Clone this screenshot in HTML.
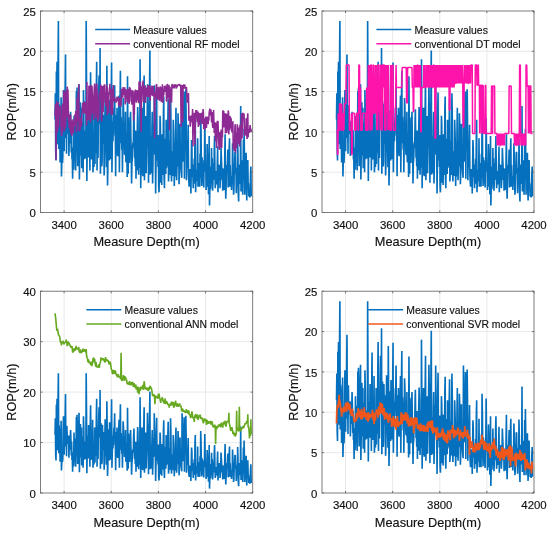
<!DOCTYPE html>
<html><head><meta charset="utf-8"><title>ROP models</title>
<style>
html,body{margin:0;padding:0;background:#fff;}
body{width:550px;height:533px;overflow:hidden;}
svg{display:block;}
text{font-family:"Liberation Sans",Arial,Helvetica,sans-serif;fill:#111;stroke:#111;stroke-width:0.15px;}
.tk{font-size:11.4px;}
.lb{font-size:12.75px;}
.lg{font-size:10.4px;}
</style></head><body>
<svg width="550" height="533" viewBox="0 0 550 533">
<rect width="550" height="533" fill="#fff"/>
<g>
<rect x="40.50" y="11.00" width="212.20" height="201.50" fill="#fff"/>
<path d="M64.08 11.00 V212.50 M111.23 11.00 V212.50 M158.39 11.00 V212.50 M205.54 11.00 V212.50 M40.50 172.20 H252.70 M40.50 131.90 H252.70 M40.50 91.60 H252.70 M40.50 51.30 H252.70" stroke="#e3e3e3" stroke-width="0.8" fill="none"/>
<path d="M55.01 119.54 L55.35 93.21 L55.69 150.55 L56.03 160.51 L56.37 71.45 L56.71 90.54 L57.05 61.78 L57.39 144.33 L57.72 129.71 L58.06 59.67 L58.40 21.08 L58.74 148.99 L59.08 104.37 L59.42 110.98 L59.76 122.36 L60.10 162.53 L60.44 149.01 L60.77 131.19 L61.11 97.24 L61.45 176.47 L61.79 162.40 L62.13 146.18 L62.47 163.01 L62.81 157.18 L63.15 110.85 L63.48 89.99 L63.82 145.43 L64.16 151.24 L64.50 116.68 L64.84 117.55 L65.18 84.99 L65.52 54.52 L65.86 138.03 L66.20 113.16 L66.53 153.66 L66.87 105.00 L67.21 122.64 L67.55 125.52 L67.89 134.03 L68.23 127.83 L68.57 120.83 L68.91 156.08 L69.24 139.79 L69.58 121.85 L69.92 143.51 L70.26 126.02 L70.60 111.75 L70.94 128.26 L71.28 152.47 L71.62 130.31 L71.96 159.59 L72.29 155.77 L72.63 178.65 L72.97 147.53 L73.31 168.87 L73.65 169.84 L73.99 115.78 L74.33 150.17 L74.67 125.31 L75.00 155.23 L75.34 160.76 L75.68 170.59 L76.02 148.61 L76.36 91.24 L76.70 104.04 L77.04 87.57 L77.38 116.26 L77.72 166.16 L78.05 135.59 L78.39 119.02 L78.73 103.13 L79.07 84.35 L79.41 179.45 L79.75 157.05 L80.09 118.77 L80.43 102.34 L80.77 155.74 L81.10 122.51 L81.44 107.72 L81.78 168.35 L82.12 122.21 L82.46 128.60 L82.80 136.45 L83.14 172.20 L83.48 89.99 L83.81 110.15 L84.15 159.33 L84.49 150.58 L84.83 130.43 L85.17 137.76 L85.51 150.97 L85.85 158.38 L86.19 21.08 L86.53 86.51 L86.86 181.07 L87.20 146.25 L87.54 121.26 L87.88 135.82 L88.22 157.37 L88.56 103.69 L88.90 135.62 L89.24 135.69 L89.57 118.45 L89.91 170.59 L90.25 105.66 L90.59 72.26 L90.93 132.42 L91.27 150.06 L91.61 159.46 L91.95 155.63 L92.29 139.25 L92.62 95.63 L92.96 172.20 L93.30 162.91 L93.64 160.03 L93.98 167.04 L94.32 143.86 L94.66 107.72 L95.00 163.95 L95.33 115.75 L95.67 107.62 L96.01 153.33 L96.35 88.38 L96.69 61.78 L97.03 170.59 L97.37 125.52 L97.71 143.83 L98.05 157.98 L98.38 115.88 L98.72 91.11 L99.06 75.48 L99.40 103.14 L99.74 123.87 L100.08 48.08 L100.42 173.81 L100.76 119.64 L101.10 101.27 L101.43 120.50 L101.77 166.40 L102.11 161.10 L102.45 103.69 L102.79 122.64 L103.13 144.13 L103.47 131.73 L103.81 114.90 L104.14 175.42 L104.48 164.77 L104.82 124.22 L105.16 94.82 L105.50 106.41 L105.84 143.47 L106.18 147.67 L106.52 167.21 L106.86 65.81 L107.19 109.35 L107.53 185.50 L107.87 167.86 L108.21 110.81 L108.55 122.05 L108.89 139.29 L109.23 160.47 L109.57 99.66 L109.90 113.82 L110.24 159.10 L110.58 156.26 L110.92 134.42 L111.26 101.36 L111.60 62.58 L111.94 172.20 L112.28 146.42 L112.62 121.63 L112.95 141.17 L113.29 129.77 L113.63 118.74 L113.97 107.87 L114.31 109.01 L114.65 85.15 L114.99 135.64 L115.33 129.99 L115.66 176.23 L116.00 121.67 L116.34 114.90 L116.68 151.04 L117.02 107.72 L117.36 153.26 L117.70 156.20 L118.04 149.43 L118.38 151.55 L118.71 113.03 L119.05 95.63 L119.39 172.20 L119.73 135.27 L120.07 98.38 L120.41 70.64 L120.75 143.19 L121.09 116.81 L121.43 126.41 L121.76 149.82 L122.10 130.63 L122.44 172.20 L122.78 140.28 L123.12 98.05 L123.46 106.05 L123.80 124.50 L124.14 129.10 L124.47 154.38 L124.81 152.14 L125.15 155.16 L125.49 111.75 L125.83 160.91 L126.17 162.43 L126.51 132.65 L126.85 146.66 L127.19 177.04 L127.52 76.29 L127.86 128.28 L128.20 173.77 L128.54 117.32 L128.88 156.53 L129.22 137.62 L129.56 162.89 L129.90 134.73 L130.23 122.11 L130.57 111.75 L130.91 138.40 L131.25 154.22 L131.59 183.48 L131.93 163.03 L132.27 159.69 L132.61 147.48 L132.95 142.67 L133.28 147.67 L133.62 122.16 L133.96 109.33 L134.30 137.62 L134.64 157.62 L134.98 153.20 L135.32 166.29 L135.66 130.53 L136.00 178.65 L136.33 153.52 L136.67 169.81 L137.01 170.01 L137.35 127.37 L137.69 107.13 L138.03 118.80 L138.37 165.49 L138.71 174.62 L139.04 130.82 L139.38 131.36 L139.72 167.84 L140.06 59.36 L140.40 110.68 L140.74 188.32 L141.08 147.06 L141.42 149.42 L141.76 174.58 L142.09 107.72 L142.43 135.46 L142.77 176.29 L143.11 118.46 L143.45 122.42 L143.79 104.70 L144.13 75.48 L144.47 180.26 L144.80 163.07 L145.14 127.09 L145.48 164.31 L145.82 115.91 L146.16 173.32 L146.50 154.60 L146.84 131.48 L147.18 115.85 L147.52 84.35 L147.85 109.64 L148.19 133.31 L148.53 182.68 L148.87 103.27 L149.21 169.78 L149.55 89.95 L149.89 50.49 L150.23 174.62 L150.56 136.58 L150.90 158.08 L151.24 156.19 L151.58 173.30 L151.92 129.38 L152.26 111.75 L152.60 183.48 L152.94 164.98 L153.28 124.66 L153.61 149.90 L153.95 154.35 L154.29 85.15 L154.63 118.47 L154.97 131.75 L155.31 146.77 L155.65 193.48 L155.99 164.46 L156.33 110.59 L156.66 92.41 L157.00 159.64 L157.34 159.70 L157.68 141.03 L158.02 166.96 L158.36 135.08 L158.70 186.54 L159.04 192.35 L159.37 174.99 L159.71 162.21 L160.05 115.78 L160.39 124.31 L160.73 182.76 L161.07 135.63 L161.41 140.11 L161.75 185.10 L162.09 134.23 L162.42 143.22 L162.76 174.87 L163.10 169.68 L163.44 111.83 L163.78 96.44 L164.12 177.85 L164.46 188.32 L164.80 154.32 L165.13 138.55 L165.47 163.45 L165.81 173.87 L166.15 119.81 L166.49 167.99 L166.83 147.51 L167.17 166.15 L167.51 150.39 L167.85 119.71 L168.18 98.85 L168.52 181.47 L168.86 173.02 L169.20 140.77 L169.54 174.04 L169.88 174.84 L170.22 126.75 L170.56 93.21 L170.89 114.52 L171.23 173.56 L171.57 181.47 L171.91 151.15 L172.25 172.18 L172.59 175.84 L172.93 167.11 L173.27 119.81 L173.61 130.86 L173.94 144.62 L174.28 185.90 L174.62 166.48 L174.96 154.01 L175.30 176.44 L175.64 130.24 L175.98 107.72 L176.32 163.43 L176.66 180.26 L176.99 165.71 L177.33 148.76 L177.67 166.49 L178.01 113.36 L178.35 124.16 L178.69 124.20 L179.03 184.29 L179.37 173.78 L179.70 167.03 L180.04 123.84 L180.38 168.77 L180.72 144.50 L181.06 161.84 L181.40 173.22 L181.74 177.84 L182.08 85.15 L182.42 105.03 L182.75 161.71 L183.09 155.37 L183.43 148.72 L183.77 159.90 L184.11 91.60 L184.45 178.65 L184.79 126.14 L185.13 144.82 L185.46 149.40 L185.80 89.18 L186.14 118.20 L186.48 180.26 L186.82 157.05 L187.16 161.48 L187.50 167.46 L187.84 145.58 L188.18 124.65 L188.51 174.27 L188.85 181.35 L189.19 186.71 L189.53 170.60 L189.87 170.29 L190.21 169.11 L190.55 171.03 L190.89 193.48 L191.22 170.62 L191.56 139.96 L191.90 146.73 L192.24 177.00 L192.58 166.83 L192.92 175.08 L193.26 188.32 L193.60 164.55 L193.94 172.57 L194.27 158.59 L194.61 183.75 L194.95 135.93 L195.29 119.81 L195.63 192.35 L195.97 181.11 L196.31 169.79 L196.65 181.10 L196.99 178.56 L197.32 174.42 L197.66 138.35 L198.00 186.71 L198.34 181.73 L198.68 162.90 L199.02 182.03 L199.36 170.74 L199.70 186.71 L200.03 153.80 L200.37 177.86 L200.71 113.36 L201.05 132.34 L201.39 169.46 L201.73 185.90 L202.07 157.21 L202.41 162.52 L202.75 181.22 L203.08 174.66 L203.42 181.71 L203.76 187.51 L204.10 160.11 L204.44 165.63 L204.78 118.20 L205.12 147.94 L205.46 171.45 L205.79 165.37 L206.13 189.93 L206.47 175.44 L206.81 179.49 L207.15 143.99 L207.49 156.36 L207.83 186.75 L208.17 172.26 L208.51 194.35 L208.84 190.13 L209.18 135.93 L209.52 205.49 L209.86 187.97 L210.20 166.39 L210.54 189.13 L210.88 182.14 L211.22 180.08 L211.56 148.02 L211.89 181.42 L212.23 158.23 L212.57 190.74 L212.91 183.82 L213.25 163.18 L213.59 172.85 L213.93 179.67 L214.27 148.79 L214.60 135.93 L214.94 169.45 L215.28 188.32 L215.62 180.42 L215.96 182.24 L216.30 173.37 L216.64 171.20 L216.98 184.48 L217.32 161.67 L217.65 146.41 L217.99 192.35 L218.33 176.72 L218.67 164.62 L219.01 180.19 L219.35 175.08 L219.69 164.64 L220.03 188.32 L220.36 180.75 L220.70 171.58 L221.04 148.02 L221.38 157.74 L221.72 166.47 L222.06 179.75 L222.40 168.17 L222.74 190.74 L223.08 168.47 L223.41 183.86 L223.75 178.07 L224.09 171.55 L224.43 190.10 L224.77 155.30 L225.11 134.32 L225.45 182.74 L225.79 198.80 L226.12 185.94 L226.46 165.09 L226.80 172.85 L227.14 169.62 L227.48 161.56 L227.82 149.63 L228.16 187.51 L228.50 165.88 L228.84 152.94 L229.17 149.09 L229.51 138.35 L229.85 186.71 L230.19 165.01 L230.53 180.13 L230.87 176.08 L231.21 177.53 L231.55 189.93 L231.89 179.68 L232.22 176.52 L232.56 143.18 L232.90 155.60 L233.24 171.28 L233.58 194.77 L233.92 190.09 L234.26 168.88 L234.60 173.77 L234.93 152.45 L235.27 152.05 L235.61 171.85 L235.95 167.69 L236.29 193.16 L236.63 184.33 L236.97 176.76 L237.31 185.32 L237.65 139.15 L237.98 155.75 L238.32 195.41 L238.66 201.54 L239.00 164.40 L239.34 183.94 L239.68 178.63 L240.02 171.39 L240.36 179.84 L240.69 106.11 L241.03 191.54 L241.37 178.11 L241.71 160.27 L242.05 172.35 L242.39 181.04 L242.73 194.77 L243.07 172.68 L243.41 139.68 L243.74 180.19 L244.08 128.68 L244.42 152.72 L244.76 194.77 L245.10 169.95 L245.44 180.29 L245.78 178.93 L246.12 152.86 L246.45 188.28 L246.79 200.41 L247.13 177.60 L247.47 176.23 L247.81 160.11 L248.15 183.90 L248.49 183.23 L248.83 196.38 L249.17 188.95 L249.50 194.89 L249.84 197.51 L250.18 194.82 L250.52 175.55 L250.86 166.56 L251.20 196.38" fill="none" stroke="#0570be" stroke-width="1.62" stroke-linejoin="bevel"/>
<path d="M55.01 115.78 L55.35 109.39 L55.69 103.93 L56.03 160.11 L56.37 110.00 L56.71 101.29 L57.05 132.51 L57.39 129.44 L57.72 130.74 L58.06 102.38 L58.40 113.08 L58.74 127.11 L59.08 108.22 L59.42 115.06 L59.76 111.84 L60.10 106.86 L60.44 113.51 L60.77 105.44 L61.11 128.72 L61.45 133.92 L61.79 135.81 L62.13 115.81 L62.47 132.29 L62.81 103.51 L63.15 127.21 L63.48 108.95 L63.82 90.66 L64.16 119.65 L64.50 131.23 L64.84 103.86 L65.18 92.07 L65.52 128.29 L65.86 118.04 L66.20 89.93 L66.53 95.14 L66.87 117.54 L67.21 86.65 L67.55 90.88 L67.89 89.30 L68.23 103.25 L68.57 121.85 L68.91 121.55 L69.24 128.14 L69.58 114.31 L69.92 127.71 L70.26 131.52 L70.60 114.82 L70.94 134.28 L71.28 120.57 L71.62 135.50 L71.96 135.02 L72.29 128.19 L72.63 126.58 L72.97 119.32 L73.31 133.07 L73.65 129.70 L73.99 121.64 L74.33 126.39 L74.67 124.46 L75.00 114.39 L75.34 123.89 L75.68 111.04 L76.02 112.75 L76.36 131.60 L76.70 131.89 L77.04 98.05 L77.38 109.01 L77.72 110.18 L78.05 91.60 L78.39 121.57 L78.73 84.35 L79.07 129.11 L79.41 131.09 L79.75 129.17 L80.09 129.72 L80.43 117.86 L80.77 119.65 L81.10 126.37 L81.44 125.71 L81.78 115.08 L82.12 111.54 L82.46 106.23 L82.80 102.95 L83.14 104.59 L83.48 108.33 L83.81 113.33 L84.15 101.39 L84.49 103.53 L84.83 105.32 L85.17 108.88 L85.51 113.90 L85.85 105.04 L86.19 102.03 L86.53 125.42 L86.86 82.05 L87.20 120.01 L87.54 119.87 L87.88 115.76 L88.22 113.42 L88.56 120.15 L88.90 85.88 L89.24 86.33 L89.57 86.03 L89.91 115.07 L90.25 118.07 L90.59 122.37 L90.93 84.77 L91.27 114.41 L91.61 89.35 L91.95 85.79 L92.29 93.47 L92.62 102.77 L92.96 113.64 L93.30 102.45 L93.64 120.07 L93.98 96.01 L94.32 87.09 L94.66 83.52 L95.00 102.71 L95.33 109.46 L95.67 118.54 L96.01 112.32 L96.35 86.05 L96.69 83.53 L97.03 90.20 L97.37 106.97 L97.71 121.69 L98.05 115.68 L98.38 101.23 L98.72 119.26 L99.06 102.05 L99.40 91.42 L99.74 99.89 L100.08 92.15 L100.42 90.50 L100.76 84.47 L101.10 89.80 L101.43 120.90 L101.77 121.27 L102.11 99.85 L102.45 85.91 L102.79 102.90 L103.13 112.05 L103.47 85.55 L103.81 102.84 L104.14 95.30 L104.48 84.24 L104.82 93.82 L105.16 93.77 L105.50 93.38 L105.84 105.96 L106.18 105.79 L106.52 84.63 L106.86 86.73 L107.19 115.09 L107.53 87.50 L107.87 98.59 L108.21 95.93 L108.55 113.18 L108.89 93.17 L109.23 92.81 L109.57 94.28 L109.90 83.83 L110.24 91.45 L110.58 90.36 L110.92 109.48 L111.26 114.69 L111.60 88.97 L111.94 113.83 L112.28 114.73 L112.62 110.54 L112.95 89.65 L113.29 85.07 L113.63 101.58 L113.97 97.15 L114.31 97.74 L114.65 97.75 L114.99 100.91 L115.33 100.00 L115.66 98.86 L116.00 102.71 L116.34 100.85 L116.68 100.89 L117.02 96.52 L117.36 99.45 L117.70 97.57 L118.04 96.83 L118.38 100.66 L118.71 106.01 L119.05 105.91 L119.39 102.04 L119.73 97.87 L120.07 100.06 L120.41 97.51 L120.75 106.75 L121.09 104.33 L121.43 88.80 L121.76 91.18 L122.10 89.97 L122.44 91.77 L122.78 97.67 L123.12 87.04 L123.46 94.47 L123.80 90.50 L124.14 94.94 L124.47 89.30 L124.81 87.27 L125.15 104.49 L125.49 89.26 L125.83 90.62 L126.17 97.08 L126.51 98.92 L126.85 89.88 L127.19 102.51 L127.52 91.23 L127.86 88.96 L128.20 91.70 L128.54 97.02 L128.88 102.08 L129.22 103.75 L129.56 87.08 L129.90 88.04 L130.23 88.59 L130.57 89.86 L130.91 93.65 L131.25 101.99 L131.59 91.12 L131.93 104.75 L132.27 90.16 L132.61 93.67 L132.95 90.63 L133.28 108.40 L133.62 120.62 L133.96 102.48 L134.30 114.83 L134.64 91.45 L134.98 93.23 L135.32 90.19 L135.66 89.96 L136.00 99.67 L136.33 102.75 L136.67 100.43 L137.01 91.34 L137.35 90.31 L137.69 93.59 L138.03 92.95 L138.37 100.15 L138.71 103.18 L139.04 81.62 L139.38 102.98 L139.72 86.77 L140.06 97.83 L140.40 81.50 L140.74 98.66 L141.08 131.90 L141.42 103.85 L141.76 92.62 L142.09 86.23 L142.43 87.69 L142.77 84.01 L143.11 80.68 L143.45 101.92 L143.79 94.41 L144.13 87.71 L144.47 95.03 L144.80 88.94 L145.14 85.20 L145.48 102.87 L145.82 92.21 L146.16 91.64 L146.50 87.49 L146.84 96.60 L147.18 92.70 L147.52 91.05 L147.85 86.29 L148.19 85.04 L148.53 97.10 L148.87 87.19 L149.21 86.29 L149.55 90.85 L149.89 85.59 L150.23 100.71 L150.56 88.75 L150.90 88.81 L151.24 88.24 L151.58 95.34 L151.92 85.57 L152.26 90.71 L152.60 86.17 L152.94 96.22 L153.28 85.96 L153.61 93.06 L153.95 95.68 L154.29 92.08 L154.63 138.35 L154.97 102.80 L155.31 93.79 L155.65 98.08 L155.99 89.47 L156.33 84.68 L156.66 84.39 L157.00 92.15 L157.34 99.72 L157.68 95.94 L158.02 87.47 L158.36 87.52 L158.70 95.39 L159.04 100.03 L159.37 96.06 L159.71 100.84 L160.05 86.53 L160.39 88.01 L160.73 87.04 L161.07 90.12 L161.41 102.34 L161.75 91.42 L162.09 99.18 L162.42 84.29 L162.76 102.66 L163.10 100.12 L163.44 92.11 L163.78 95.15 L164.12 89.30 L164.46 86.15 L164.80 92.01 L165.13 86.10 L165.47 85.82 L165.81 90.26 L166.15 87.33 L166.49 100.71 L166.83 101.49 L167.17 84.00 L167.51 84.87 L167.85 92.04 L168.18 95.07 L168.52 98.11 L168.86 84.81 L169.20 89.41 L169.54 130.29 L169.88 86.64 L170.22 88.93 L170.56 89.94 L170.89 97.52 L171.23 88.96 L171.57 102.74 L171.91 84.39 L172.25 84.53 L172.59 88.48 L172.93 85.26 L173.27 87.17 L173.61 85.28 L173.94 84.96 L174.28 88.38 L174.62 84.61 L174.96 84.81 L175.30 84.74 L175.64 86.80 L175.98 85.70 L176.32 88.55 L176.66 84.58 L176.99 86.95 L177.33 86.57 L177.67 84.64 L178.01 85.17 L178.35 84.94 L178.69 84.79 L179.03 84.91 L179.37 84.56 L179.70 84.48 L180.04 86.09 L180.38 85.95 L180.72 84.86 L181.06 127.06 L181.40 88.40 L181.74 87.35 L182.08 88.81 L182.42 84.92 L182.75 122.23 L183.09 86.11 L183.43 88.66 L183.77 84.86 L184.11 84.84 L184.45 86.35 L184.79 84.68 L185.13 88.75 L185.46 87.02 L185.80 88.12 L186.14 87.93 L186.48 86.95 L186.82 94.76 L187.16 101.32 L187.50 102.68 L187.84 97.33 L188.18 97.53 L188.51 93.06 L188.85 119.73 L189.19 120.76 L189.53 119.88 L189.87 116.34 L190.21 126.77 L190.55 123.91 L190.89 115.83 L191.22 116.09 L191.56 119.97 L191.90 122.18 L192.24 119.00 L192.58 109.10 L192.92 146.41 L193.26 124.41 L193.60 121.78 L193.94 127.74 L194.27 112.87 L194.61 127.07 L194.95 144.80 L195.29 126.26 L195.63 113.74 L195.97 109.99 L196.31 113.40 L196.65 110.02 L196.99 114.80 L197.32 122.28 L197.66 120.12 L198.00 111.43 L198.34 127.02 L198.68 119.01 L199.02 113.57 L199.36 113.32 L199.70 125.19 L200.03 117.57 L200.37 118.72 L200.71 114.31 L201.05 116.19 L201.39 112.71 L201.73 119.35 L202.07 123.88 L202.41 112.44 L202.75 114.72 L203.08 109.16 L203.42 113.15 L203.76 128.90 L204.10 124.69 L204.44 125.87 L204.78 129.86 L205.12 118.85 L205.46 120.45 L205.79 116.69 L206.13 124.18 L206.47 127.94 L206.81 116.59 L207.15 121.70 L207.49 117.23 L207.83 120.08 L208.17 124.15 L208.51 116.84 L208.84 120.55 L209.18 112.38 L209.52 110.62 L209.86 108.56 L210.20 115.29 L210.54 113.66 L210.88 109.65 L211.22 114.19 L211.56 122.40 L211.89 112.04 L212.23 114.76 L212.57 126.28 L212.91 127.75 L213.25 119.10 L213.59 110.08 L213.93 121.91 L214.27 133.09 L214.60 122.46 L214.94 124.45 L215.28 135.66 L215.62 141.30 L215.96 122.58 L216.30 138.85 L216.64 148.02 L216.98 137.44 L217.32 120.87 L217.65 128.79 L217.99 120.91 L218.33 130.04 L218.67 139.33 L219.01 147.85 L219.35 148.92 L219.69 149.63 L220.03 131.89 L220.36 133.34 L220.70 147.50 L221.04 130.77 L221.38 129.76 L221.72 148.02 L222.06 131.97 L222.40 137.40 L222.74 112.06 L223.08 110.31 L223.41 111.68 L223.75 111.07 L224.09 127.40 L224.43 114.70 L224.77 123.27 L225.11 113.18 L225.45 133.51 L225.79 113.71 L226.12 115.68 L226.46 129.80 L226.80 132.98 L227.14 113.77 L227.48 119.52 L227.82 130.44 L228.16 110.44 L228.50 111.55 L228.84 134.37 L229.17 120.31 L229.51 129.93 L229.85 115.85 L230.19 128.21 L230.53 117.03 L230.87 123.44 L231.21 118.40 L231.55 131.02 L231.89 130.71 L232.22 132.75 L232.56 129.98 L232.90 121.31 L233.24 149.20 L233.58 147.57 L233.92 138.55 L234.26 151.24 L234.60 141.72 L234.93 126.54 L235.27 124.22 L235.61 152.86 L235.95 132.53 L236.29 139.57 L236.63 148.13 L236.97 139.14 L237.31 124.22 L237.65 127.48 L237.98 131.70 L238.32 136.40 L238.66 144.02 L239.00 130.68 L239.34 127.68 L239.68 146.41 L240.02 124.82 L240.36 140.62 L240.69 139.48 L241.03 135.92 L241.37 116.91 L241.71 113.21 L242.05 138.44 L242.39 123.03 L242.73 113.32 L243.07 113.10 L243.41 120.42 L243.74 115.90 L244.08 113.46 L244.42 133.69 L244.76 135.80 L245.10 127.17 L245.44 135.15 L245.78 133.58 L246.12 118.78 L246.45 118.44 L246.79 135.71 L247.13 139.00 L247.47 117.63 L247.81 113.31 L248.15 137.29 L248.49 132.05 L248.83 128.97 L249.17 132.82 L249.50 131.56 L249.84 127.25 L250.18 125.03 L250.52 131.20 L250.86 128.51 L251.20 131.90" fill="none" stroke="#8e2a93" stroke-width="1.55" stroke-linejoin="bevel"/>
<path d="M64.08 212.50 v-2.10 M64.08 11.00 v2.10 M111.23 212.50 v-2.10 M111.23 11.00 v2.10 M158.39 212.50 v-2.10 M158.39 11.00 v2.10 M205.54 212.50 v-2.10 M205.54 11.00 v2.10 M252.70 212.50 v-2.10 M252.70 11.00 v2.10 M40.50 212.50 h2.10 M252.70 212.50 h-2.10 M40.50 172.20 h2.10 M252.70 172.20 h-2.10 M40.50 131.90 h2.10 M252.70 131.90 h-2.10 M40.50 91.60 h2.10 M252.70 91.60 h-2.10 M40.50 51.30 h2.10 M252.70 51.30 h-2.10 M40.50 11.00 h2.10 M252.70 11.00 h-2.10" stroke="#555" stroke-width="0.8" fill="none"/>
<rect x="40.50" y="11.00" width="212.20" height="201.50" fill="none" stroke="#666" stroke-width="0.85"/>
<text class="tk" x="64.08" y="228.90" text-anchor="middle">3400</text>
<text class="tk" x="111.23" y="228.90" text-anchor="middle">3600</text>
<text class="tk" x="158.39" y="228.90" text-anchor="middle">3800</text>
<text class="tk" x="205.54" y="228.90" text-anchor="middle">4000</text>
<text class="tk" x="252.70" y="228.90" text-anchor="middle">4200</text>
<text class="tk" x="35.90" y="217.10" text-anchor="end">0</text>
<text class="tk" x="35.90" y="176.80" text-anchor="end">5</text>
<text class="tk" x="35.90" y="136.50" text-anchor="end">10</text>
<text class="tk" x="35.90" y="96.20" text-anchor="end">15</text>
<text class="tk" x="35.90" y="55.90" text-anchor="end">20</text>
<text class="tk" x="35.90" y="15.60" text-anchor="end">25</text>
<text class="lb" x="146.60" y="246.30" text-anchor="middle">Measure Depth(m)</text>
<text class="lb" transform="translate(16.30 111.75) rotate(-90)" text-anchor="middle">ROP(m/h)</text>
<path d="M95.20 29.50 h34.9" stroke="#0570be" stroke-width="1.5" fill="none"/>
<path d="M95.20 43.85 h34.9" stroke="#8e2a93" stroke-width="1.5" fill="none"/>
<text class="lg" x="133.30" y="33.90">Measure values</text>
<text class="lg" x="133.30" y="48.30">conventional RF model</text>
</g>
<g>
<rect x="322.00" y="11.00" width="212.00" height="201.50" fill="#fff"/>
<path d="M345.56 11.00 V212.50 M392.67 11.00 V212.50 M439.78 11.00 V212.50 M486.89 11.00 V212.50 M322.00 172.20 H534.00 M322.00 131.90 H534.00 M322.00 91.60 H534.00 M322.00 51.30 H534.00" stroke="#e3e3e3" stroke-width="0.8" fill="none"/>
<path d="M336.50 119.54 L336.84 93.21 L337.18 150.55 L337.52 160.51 L337.85 71.45 L338.19 90.54 L338.53 61.78 L338.87 144.33 L339.21 129.71 L339.55 59.67 L339.89 21.08 L340.22 148.99 L340.56 104.37 L340.90 110.98 L341.24 122.36 L341.58 162.53 L341.92 149.01 L342.25 131.19 L342.59 97.24 L342.93 176.47 L343.27 162.40 L343.61 146.18 L343.95 163.01 L344.29 157.18 L344.62 110.85 L344.96 89.99 L345.30 145.43 L345.64 151.24 L345.98 116.68 L346.32 117.55 L346.66 84.99 L346.99 54.52 L347.33 138.03 L347.67 113.16 L348.01 153.66 L348.35 105.00 L348.69 122.64 L349.03 125.52 L349.36 134.03 L349.70 127.83 L350.04 120.83 L350.38 156.08 L350.72 139.79 L351.06 121.85 L351.39 143.51 L351.73 126.02 L352.07 111.75 L352.41 128.26 L352.75 152.47 L353.09 130.31 L353.43 159.59 L353.76 155.77 L354.10 178.65 L354.44 147.53 L354.78 168.87 L355.12 169.84 L355.46 115.78 L355.80 150.17 L356.13 125.31 L356.47 155.23 L356.81 160.76 L357.15 170.59 L357.49 148.61 L357.83 91.24 L358.16 104.04 L358.50 87.57 L358.84 116.26 L359.18 166.16 L359.52 135.59 L359.86 119.02 L360.20 103.13 L360.53 84.35 L360.87 179.45 L361.21 157.05 L361.55 118.77 L361.89 102.34 L362.23 155.74 L362.57 122.51 L362.90 107.72 L363.24 168.35 L363.58 122.21 L363.92 128.60 L364.26 136.45 L364.60 172.20 L364.94 89.99 L365.27 110.15 L365.61 159.33 L365.95 150.58 L366.29 130.43 L366.63 137.76 L366.97 150.97 L367.30 158.38 L367.64 21.08 L367.98 86.51 L368.32 181.07 L368.66 146.25 L369.00 121.26 L369.34 135.82 L369.67 157.37 L370.01 103.69 L370.35 135.62 L370.69 135.69 L371.03 118.45 L371.37 170.59 L371.71 105.66 L372.04 72.26 L372.38 132.42 L372.72 150.06 L373.06 159.46 L373.40 155.63 L373.74 139.25 L374.08 95.63 L374.41 172.20 L374.75 162.91 L375.09 160.03 L375.43 167.04 L375.77 143.86 L376.11 107.72 L376.44 163.95 L376.78 115.75 L377.12 107.62 L377.46 153.33 L377.80 88.38 L378.14 61.78 L378.48 170.59 L378.81 125.52 L379.15 143.83 L379.49 157.98 L379.83 115.88 L380.17 91.11 L380.51 75.48 L380.85 103.14 L381.18 123.87 L381.52 48.08 L381.86 173.81 L382.20 119.64 L382.54 101.27 L382.88 120.50 L383.22 166.40 L383.55 161.10 L383.89 103.69 L384.23 122.64 L384.57 144.13 L384.91 131.73 L385.25 114.90 L385.58 175.42 L385.92 164.77 L386.26 124.22 L386.60 94.82 L386.94 106.41 L387.28 143.47 L387.62 147.67 L387.95 167.21 L388.29 65.81 L388.63 109.35 L388.97 185.50 L389.31 167.86 L389.65 110.81 L389.99 122.05 L390.32 139.29 L390.66 160.47 L391.00 99.66 L391.34 113.82 L391.68 159.10 L392.02 156.26 L392.35 134.42 L392.69 101.36 L393.03 62.58 L393.37 172.20 L393.71 146.42 L394.05 121.63 L394.39 141.17 L394.72 129.77 L395.06 118.74 L395.40 107.87 L395.74 109.01 L396.08 85.15 L396.42 135.64 L396.76 129.99 L397.09 176.23 L397.43 121.67 L397.77 114.90 L398.11 151.04 L398.45 107.72 L398.79 153.26 L399.13 156.20 L399.46 149.43 L399.80 151.55 L400.14 113.03 L400.48 95.63 L400.82 172.20 L401.16 135.27 L401.49 98.38 L401.83 70.64 L402.17 143.19 L402.51 116.81 L402.85 126.41 L403.19 149.82 L403.53 130.63 L403.86 172.20 L404.20 140.28 L404.54 98.05 L404.88 106.05 L405.22 124.50 L405.56 129.10 L405.90 154.38 L406.23 152.14 L406.57 155.16 L406.91 111.75 L407.25 160.91 L407.59 162.43 L407.93 132.65 L408.27 146.66 L408.60 177.04 L408.94 76.29 L409.28 128.28 L409.62 173.77 L409.96 117.32 L410.30 156.53 L410.63 137.62 L410.97 162.89 L411.31 134.73 L411.65 122.11 L411.99 111.75 L412.33 138.40 L412.67 154.22 L413.00 183.48 L413.34 163.03 L413.68 159.69 L414.02 147.48 L414.36 142.67 L414.70 147.67 L415.04 122.16 L415.37 109.33 L415.71 137.62 L416.05 157.62 L416.39 153.20 L416.73 166.29 L417.07 130.53 L417.41 178.65 L417.74 153.52 L418.08 169.81 L418.42 170.01 L418.76 127.37 L419.10 107.13 L419.44 118.80 L419.77 165.49 L420.11 174.62 L420.45 130.82 L420.79 131.36 L421.13 167.84 L421.47 59.36 L421.81 110.68 L422.14 188.32 L422.48 147.06 L422.82 149.42 L423.16 174.58 L423.50 107.72 L423.84 135.46 L424.18 176.29 L424.51 118.46 L424.85 122.42 L425.19 104.70 L425.53 75.48 L425.87 180.26 L426.21 163.07 L426.54 127.09 L426.88 164.31 L427.22 115.91 L427.56 173.32 L427.90 154.60 L428.24 131.48 L428.58 115.85 L428.91 84.35 L429.25 109.64 L429.59 133.31 L429.93 182.68 L430.27 103.27 L430.61 169.78 L430.95 89.95 L431.28 50.49 L431.62 174.62 L431.96 136.58 L432.30 158.08 L432.64 156.19 L432.98 173.30 L433.32 129.38 L433.65 111.75 L433.99 183.48 L434.33 164.98 L434.67 124.66 L435.01 149.90 L435.35 154.35 L435.68 85.15 L436.02 118.47 L436.36 131.75 L436.70 146.77 L437.04 193.48 L437.38 164.46 L437.72 110.59 L438.05 92.41 L438.39 159.64 L438.73 159.70 L439.07 141.03 L439.41 166.96 L439.75 135.08 L440.09 186.54 L440.42 192.35 L440.76 174.99 L441.10 162.21 L441.44 115.78 L441.78 124.31 L442.12 182.76 L442.46 135.63 L442.79 140.11 L443.13 185.10 L443.47 134.23 L443.81 143.22 L444.15 174.87 L444.49 169.68 L444.82 111.83 L445.16 96.44 L445.50 177.85 L445.84 188.32 L446.18 154.32 L446.52 138.55 L446.86 163.45 L447.19 173.87 L447.53 119.81 L447.87 167.99 L448.21 147.51 L448.55 166.15 L448.89 150.39 L449.23 119.71 L449.56 98.85 L449.90 181.47 L450.24 173.02 L450.58 140.77 L450.92 174.04 L451.26 174.84 L451.59 126.75 L451.93 93.21 L452.27 114.52 L452.61 173.56 L452.95 181.47 L453.29 151.15 L453.63 172.18 L453.96 175.84 L454.30 167.11 L454.64 119.81 L454.98 130.86 L455.32 144.62 L455.66 185.90 L456.00 166.48 L456.33 154.01 L456.67 176.44 L457.01 130.24 L457.35 107.72 L457.69 163.43 L458.03 180.26 L458.37 165.71 L458.70 148.76 L459.04 166.49 L459.38 113.36 L459.72 124.16 L460.06 124.20 L460.40 184.29 L460.73 173.78 L461.07 167.03 L461.41 123.84 L461.75 168.77 L462.09 144.50 L462.43 161.84 L462.77 173.22 L463.10 177.84 L463.44 85.15 L463.78 105.03 L464.12 161.71 L464.46 155.37 L464.80 148.72 L465.14 159.90 L465.47 91.60 L465.81 178.65 L466.15 126.14 L466.49 144.82 L466.83 149.40 L467.17 89.18 L467.51 118.20 L467.84 180.26 L468.18 157.05 L468.52 161.48 L468.86 167.46 L469.20 145.58 L469.54 124.65 L469.87 174.27 L470.21 181.35 L470.55 186.71 L470.89 170.60 L471.23 170.29 L471.57 169.11 L471.91 171.03 L472.24 193.48 L472.58 170.62 L472.92 139.96 L473.26 146.73 L473.60 177.00 L473.94 166.83 L474.28 175.08 L474.61 188.32 L474.95 164.55 L475.29 172.57 L475.63 158.59 L475.97 183.75 L476.31 135.93 L476.65 119.81 L476.98 192.35 L477.32 181.11 L477.66 169.79 L478.00 181.10 L478.34 178.56 L478.68 174.42 L479.01 138.35 L479.35 186.71 L479.69 181.73 L480.03 162.90 L480.37 182.03 L480.71 170.74 L481.05 186.71 L481.38 153.80 L481.72 177.86 L482.06 113.36 L482.40 132.34 L482.74 169.46 L483.08 185.90 L483.42 157.21 L483.75 162.52 L484.09 181.22 L484.43 174.66 L484.77 181.71 L485.11 187.51 L485.45 160.11 L485.78 165.63 L486.12 118.20 L486.46 147.94 L486.80 171.45 L487.14 165.37 L487.48 189.93 L487.82 175.44 L488.15 179.49 L488.49 143.99 L488.83 156.36 L489.17 186.75 L489.51 172.26 L489.85 194.35 L490.19 190.13 L490.52 135.93 L490.86 205.49 L491.20 187.97 L491.54 166.39 L491.88 189.13 L492.22 182.14 L492.56 180.08 L492.89 148.02 L493.23 181.42 L493.57 158.23 L493.91 190.74 L494.25 183.82 L494.59 163.18 L494.92 172.85 L495.26 179.67 L495.60 148.79 L495.94 135.93 L496.28 169.45 L496.62 188.32 L496.96 180.42 L497.29 182.24 L497.63 173.37 L497.97 171.20 L498.31 184.48 L498.65 161.67 L498.99 146.41 L499.33 192.35 L499.66 176.72 L500.00 164.62 L500.34 180.19 L500.68 175.08 L501.02 164.64 L501.36 188.32 L501.70 180.75 L502.03 171.58 L502.37 148.02 L502.71 157.74 L503.05 166.47 L503.39 179.75 L503.73 168.17 L504.06 190.74 L504.40 168.47 L504.74 183.86 L505.08 178.07 L505.42 171.55 L505.76 190.10 L506.10 155.30 L506.43 134.32 L506.77 182.74 L507.11 198.80 L507.45 185.94 L507.79 165.09 L508.13 172.85 L508.47 169.62 L508.80 161.56 L509.14 149.63 L509.48 187.51 L509.82 165.88 L510.16 152.94 L510.50 149.09 L510.84 138.35 L511.17 186.71 L511.51 165.01 L511.85 180.13 L512.19 176.08 L512.53 177.53 L512.87 189.93 L513.20 179.68 L513.54 176.52 L513.88 143.18 L514.22 155.60 L514.56 171.28 L514.90 194.77 L515.24 190.09 L515.57 168.88 L515.91 173.77 L516.25 152.45 L516.59 152.05 L516.93 171.85 L517.27 167.69 L517.61 193.16 L517.94 184.33 L518.28 176.76 L518.62 185.32 L518.96 139.15 L519.30 155.75 L519.64 195.41 L519.97 201.54 L520.31 164.40 L520.65 183.94 L520.99 178.63 L521.33 171.39 L521.67 179.84 L522.01 106.11 L522.34 191.54 L522.68 178.11 L523.02 160.27 L523.36 172.35 L523.70 181.04 L524.04 194.77 L524.38 172.68 L524.71 139.68 L525.05 180.19 L525.39 128.68 L525.73 152.72 L526.07 194.77 L526.41 169.95 L526.75 180.29 L527.08 178.93 L527.42 152.86 L527.76 188.28 L528.10 200.41 L528.44 177.60 L528.78 176.23 L529.11 160.11 L529.45 183.90 L529.79 183.23 L530.13 196.38 L530.47 188.95 L530.81 194.89 L531.15 197.51 L531.48 194.82 L531.82 175.55 L532.16 166.56 L532.50 196.38" fill="none" stroke="#0570be" stroke-width="1.62" stroke-linejoin="bevel"/>
<path d="M336.50 130.29 L336.84 130.29 L337.18 130.29 L337.52 154.47 L337.85 154.47 L338.19 113.36 L338.53 130.29 L338.87 130.29 L339.21 130.29 L339.55 103.69 L339.89 103.69 L340.22 103.69 L340.56 103.69 L340.90 130.29 L341.24 130.29 L341.58 103.69 L341.92 113.36 L342.25 113.36 L342.59 130.29 L342.93 130.29 L343.27 130.29 L343.61 113.36 L343.95 130.29 L344.29 113.36 L344.62 103.69 L344.96 103.69 L345.30 103.69 L345.64 103.69 L345.98 103.69 L346.32 65.00 L346.66 65.00 L346.99 65.00 L347.33 65.00 L347.67 65.00 L348.01 65.00 L348.35 65.00 L348.69 65.00 L349.03 65.00 L349.36 130.29 L349.70 130.29 L350.04 130.29 L350.38 130.29 L350.72 130.29 L351.06 130.29 L351.39 113.36 L351.73 154.47 L352.07 154.47 L352.41 113.36 L352.75 113.36 L353.09 113.36 L353.43 113.36 L353.76 113.36 L354.10 113.36 L354.44 113.36 L354.78 130.29 L355.12 130.29 L355.46 130.29 L355.80 130.29 L356.13 130.29 L356.47 113.36 L356.81 113.36 L357.15 113.36 L357.49 113.36 L357.83 113.36 L358.16 130.29 L358.50 130.29 L358.84 65.00 L359.18 65.00 L359.52 65.00 L359.86 113.36 L360.20 113.36 L360.53 87.57 L360.87 130.29 L361.21 130.29 L361.55 130.29 L361.89 130.29 L362.23 130.29 L362.57 113.36 L362.90 113.36 L363.24 113.36 L363.58 113.36 L363.92 113.36 L364.26 113.36 L364.60 113.36 L364.94 113.36 L365.27 113.36 L365.61 130.29 L365.95 130.29 L366.29 130.29 L366.63 87.57 L366.97 130.29 L367.30 130.29 L367.64 130.29 L367.98 130.29 L368.32 65.00 L368.66 113.36 L369.00 113.36 L369.34 65.00 L369.67 113.36 L370.01 130.29 L370.35 130.29 L370.69 65.00 L371.03 65.00 L371.37 65.00 L371.71 113.36 L372.04 130.29 L372.38 113.36 L372.72 103.69 L373.06 65.00 L373.40 65.00 L373.74 113.36 L374.08 113.36 L374.41 113.36 L374.75 113.36 L375.09 65.00 L375.43 113.36 L375.77 65.00 L376.11 113.36 L376.44 65.00 L376.78 130.29 L377.12 113.36 L377.46 113.36 L377.80 130.29 L378.14 65.00 L378.48 65.00 L378.81 65.00 L379.15 113.36 L379.49 113.36 L379.83 113.36 L380.17 130.29 L380.51 65.00 L380.85 65.00 L381.18 103.69 L381.52 65.00 L381.86 130.29 L382.20 130.29 L382.54 65.00 L382.88 65.00 L383.22 87.57 L383.55 65.00 L383.89 65.00 L384.23 65.00 L384.57 130.29 L384.91 87.57 L385.25 65.00 L385.58 130.29 L385.92 130.29 L386.26 65.00 L386.60 113.36 L386.94 65.00 L387.28 87.57 L387.62 65.00 L387.95 130.29 L388.29 65.00 L388.63 130.29 L388.97 113.36 L389.31 130.29 L389.65 113.36 L389.99 130.29 L390.32 130.29 L390.66 65.00 L391.00 130.29 L391.34 130.29 L391.68 113.36 L392.02 65.00 L392.35 113.36 L392.69 65.00 L393.03 65.00 L393.37 130.29 L393.71 130.29 L394.05 130.29 L394.39 130.29 L394.72 130.29 L395.06 130.29 L395.40 130.29 L395.74 87.57 L396.08 65.00 L396.42 87.57 L396.76 87.57 L397.09 87.57 L397.43 87.57 L397.77 87.57 L398.11 87.57 L398.45 87.57 L398.79 87.57 L399.13 87.57 L399.46 87.57 L399.80 87.57 L400.14 87.57 L400.48 87.57 L400.82 87.57 L401.16 87.57 L401.49 87.57 L401.83 87.57 L402.17 67.42 L402.51 67.42 L402.85 67.42 L403.19 67.42 L403.53 67.42 L403.86 67.42 L404.20 67.42 L404.54 67.42 L404.88 67.42 L405.22 67.42 L405.56 67.42 L405.90 67.42 L406.23 67.42 L406.57 102.88 L406.91 102.88 L407.25 102.88 L407.59 67.42 L407.93 67.42 L408.27 67.42 L408.60 67.42 L408.94 67.42 L409.28 67.42 L409.62 67.42 L409.96 67.42 L410.30 67.42 L410.63 67.42 L410.97 67.42 L411.31 67.42 L411.65 67.42 L411.99 67.42 L412.33 87.57 L412.67 87.57 L413.00 87.57 L413.34 111.75 L413.68 111.75 L414.02 65.00 L414.36 87.57 L414.70 65.00 L415.04 87.57 L415.37 65.00 L415.71 87.57 L416.05 65.00 L416.39 87.57 L416.73 65.00 L417.07 87.57 L417.41 65.00 L417.74 65.00 L418.08 87.57 L418.42 65.00 L418.76 87.57 L419.10 65.00 L419.44 87.57 L419.77 65.00 L420.11 87.57 L420.45 65.00 L420.79 131.90 L421.13 131.90 L421.47 87.57 L421.81 87.57 L422.14 87.57 L422.48 87.57 L422.82 87.57 L423.16 87.57 L423.50 87.57 L423.84 65.00 L424.18 87.57 L424.51 65.00 L424.85 87.57 L425.19 87.57 L425.53 87.57 L425.87 87.57 L426.21 65.00 L426.54 87.57 L426.88 65.00 L427.22 87.57 L427.56 65.00 L427.90 87.57 L428.24 65.00 L428.58 87.57 L428.91 65.00 L429.25 87.57 L429.59 87.57 L429.93 65.00 L430.27 87.57 L430.61 65.00 L430.95 87.57 L431.28 65.00 L431.62 87.57 L431.96 65.00 L432.30 87.57 L432.64 87.57 L432.98 65.00 L433.32 87.57 L433.65 65.00 L433.99 65.00 L434.33 87.57 L434.67 65.00 L435.01 138.35 L435.35 138.35 L435.68 138.35 L436.02 65.00 L436.36 87.57 L436.70 65.00 L437.04 87.57 L437.38 65.00 L437.72 87.57 L438.05 65.00 L438.39 87.57 L438.73 65.00 L439.07 87.57 L439.41 65.00 L439.75 87.57 L440.09 65.00 L440.42 87.57 L440.76 65.00 L441.10 87.57 L441.44 65.00 L441.78 87.57 L442.12 65.00 L442.46 87.57 L442.79 65.00 L443.13 87.57 L443.47 65.00 L443.81 87.57 L444.15 65.00 L444.49 87.57 L444.82 65.00 L445.16 87.57 L445.50 65.00 L445.84 87.57 L446.18 65.00 L446.52 87.57 L446.86 65.00 L447.19 87.57 L447.53 65.00 L447.87 87.57 L448.21 65.00 L448.55 87.57 L448.89 65.00 L449.23 110.14 L449.56 110.14 L449.90 110.14 L450.24 65.00 L450.58 87.57 L450.92 65.00 L451.26 87.57 L451.59 65.00 L451.93 87.57 L452.27 65.00 L452.61 87.57 L452.95 65.00 L453.29 87.57 L453.63 65.00 L453.96 87.57 L454.30 83.54 L454.64 65.00 L454.98 83.54 L455.32 65.00 L455.66 83.54 L456.00 83.54 L456.33 65.00 L456.67 83.54 L457.01 65.00 L457.35 83.54 L457.69 65.00 L458.03 83.54 L458.37 65.00 L458.70 83.54 L459.04 65.00 L459.38 83.54 L459.72 65.00 L460.06 83.54 L460.40 65.00 L460.73 83.54 L461.07 65.00 L461.41 83.54 L461.75 65.00 L462.09 83.54 L462.43 65.00 L462.77 83.54 L463.10 127.06 L463.44 127.06 L463.78 127.06 L464.12 83.54 L464.46 65.00 L464.80 83.54 L465.14 65.00 L465.47 83.54 L465.81 65.00 L466.15 83.54 L466.49 65.00 L466.83 83.54 L467.17 65.00 L467.51 83.54 L467.84 65.00 L468.18 83.54 L468.52 83.54 L468.86 65.00 L469.20 83.54 L469.54 65.00 L469.87 83.54 L470.21 65.00 L470.55 83.54 L470.89 65.00 L471.23 65.00 L471.57 65.00 L471.91 65.00 L472.24 65.00 L472.58 133.51 L472.92 133.51 L473.26 133.51 L473.60 133.51 L473.94 133.51 L474.28 133.51 L474.61 133.51 L474.95 133.51 L475.29 65.00 L475.63 65.00 L475.97 65.00 L476.31 65.00 L476.65 65.00 L476.98 85.15 L477.32 85.15 L477.66 85.15 L478.00 65.00 L478.34 65.00 L478.68 85.15 L479.01 85.15 L479.35 85.15 L479.69 133.51 L480.03 85.15 L480.37 85.15 L480.71 85.15 L481.05 85.15 L481.38 133.51 L481.72 85.15 L482.06 85.15 L482.40 85.15 L482.74 85.15 L483.08 133.51 L483.42 85.15 L483.75 133.51 L484.09 133.51 L484.43 133.51 L484.77 133.51 L485.11 133.51 L485.45 85.15 L485.78 85.15 L486.12 133.51 L486.46 133.51 L486.80 133.51 L487.14 133.51 L487.48 133.51 L487.82 133.51 L488.15 133.51 L488.49 133.51 L488.83 133.51 L489.17 133.51 L489.51 133.51 L489.85 133.51 L490.19 133.51 L490.52 133.51 L490.86 133.51 L491.20 133.51 L491.54 85.96 L491.88 85.96 L492.22 133.51 L492.56 133.51 L492.89 85.96 L493.23 85.96 L493.57 85.96 L493.91 85.96 L494.25 85.96 L494.59 85.96 L494.92 133.51 L495.26 133.51 L495.60 133.51 L495.94 133.51 L496.28 133.51 L496.62 133.51 L496.96 133.51 L497.29 145.60 L497.63 133.51 L497.97 145.60 L498.31 133.51 L498.65 145.60 L498.99 133.51 L499.33 145.60 L499.66 133.51 L500.00 145.60 L500.34 145.60 L500.68 133.51 L501.02 145.60 L501.36 133.51 L501.70 145.60 L502.03 133.51 L502.37 145.60 L502.71 133.51 L503.05 145.60 L503.39 133.51 L503.73 145.60 L504.06 133.51 L504.40 145.60 L504.74 133.51 L505.08 133.51 L505.42 133.51 L505.76 133.51 L506.10 133.51 L506.43 133.51 L506.77 133.51 L507.11 133.51 L507.45 133.51 L507.79 133.51 L508.13 133.51 L508.47 133.51 L508.80 133.51 L509.14 85.96 L509.48 85.96 L509.82 85.96 L510.16 85.96 L510.50 85.96 L510.84 85.96 L511.17 85.96 L511.51 133.51 L511.85 133.51 L512.19 133.51 L512.53 133.51 L512.87 133.51 L513.20 133.51 L513.54 133.51 L513.88 133.51 L514.22 133.51 L514.56 145.60 L514.90 133.51 L515.24 145.60 L515.57 133.51 L515.91 145.60 L516.25 133.51 L516.59 145.60 L516.93 145.60 L517.27 133.51 L517.61 145.60 L517.94 133.51 L518.28 145.60 L518.62 133.51 L518.96 145.60 L519.30 133.51 L519.64 65.00 L519.97 65.00 L520.31 65.00 L520.65 133.51 L520.99 145.60 L521.33 133.51 L521.67 145.60 L522.01 133.51 L522.34 145.60 L522.68 133.51 L523.02 145.60 L523.36 133.51 L523.70 145.60 L524.04 133.51 L524.38 145.60 L524.71 133.51 L525.05 145.60 L525.39 133.51 L525.73 145.60 L526.07 65.00 L526.41 65.00 L526.75 65.00 L527.08 85.96 L527.42 85.96 L527.76 85.96 L528.10 85.96 L528.44 133.51 L528.78 85.96 L529.11 85.96 L529.45 85.96 L529.79 133.51 L530.13 85.96 L530.47 85.96 L530.81 85.96 L531.15 133.51 L531.48 133.51 L531.82 133.51 L532.16 133.51 L532.50 133.51" fill="none" stroke="#ff14ab" stroke-width="1.5" stroke-linejoin="bevel"/>
<path d="M345.56 212.50 v-2.10 M345.56 11.00 v2.10 M392.67 212.50 v-2.10 M392.67 11.00 v2.10 M439.78 212.50 v-2.10 M439.78 11.00 v2.10 M486.89 212.50 v-2.10 M486.89 11.00 v2.10 M534.00 212.50 v-2.10 M534.00 11.00 v2.10 M322.00 212.50 h2.10 M534.00 212.50 h-2.10 M322.00 172.20 h2.10 M534.00 172.20 h-2.10 M322.00 131.90 h2.10 M534.00 131.90 h-2.10 M322.00 91.60 h2.10 M534.00 91.60 h-2.10 M322.00 51.30 h2.10 M534.00 51.30 h-2.10 M322.00 11.00 h2.10 M534.00 11.00 h-2.10" stroke="#555" stroke-width="0.8" fill="none"/>
<rect x="322.00" y="11.00" width="212.00" height="201.50" fill="none" stroke="#666" stroke-width="0.85"/>
<text class="tk" x="345.56" y="228.90" text-anchor="middle">3400</text>
<text class="tk" x="392.67" y="228.90" text-anchor="middle">3600</text>
<text class="tk" x="439.78" y="228.90" text-anchor="middle">3800</text>
<text class="tk" x="486.89" y="228.90" text-anchor="middle">4000</text>
<text class="tk" x="534.00" y="228.90" text-anchor="middle">4200</text>
<text class="tk" x="317.40" y="217.10" text-anchor="end">0</text>
<text class="tk" x="317.40" y="176.80" text-anchor="end">5</text>
<text class="tk" x="317.40" y="136.50" text-anchor="end">10</text>
<text class="tk" x="317.40" y="96.20" text-anchor="end">15</text>
<text class="tk" x="317.40" y="55.90" text-anchor="end">20</text>
<text class="tk" x="317.40" y="15.60" text-anchor="end">25</text>
<text class="lb" x="428.00" y="246.30" text-anchor="middle">Measure Depth(m)</text>
<text class="lb" transform="translate(297.80 111.75) rotate(-90)" text-anchor="middle">ROP(m/h)</text>
<path d="M376.40 29.50 h34.9" stroke="#0570be" stroke-width="1.5" fill="none"/>
<path d="M376.40 43.85 h34.9" stroke="#ff14ab" stroke-width="1.5" fill="none"/>
<text class="lg" x="414.50" y="33.90">Measure values</text>
<text class="lg" x="414.50" y="48.30">conventional DT model</text>
</g>
<g>
<rect x="40.50" y="291.20" width="212.20" height="201.80" fill="#fff"/>
<path d="M64.08 291.20 V493.00 M111.23 291.20 V493.00 M158.39 291.20 V493.00 M205.54 291.20 V493.00 M40.50 442.55 H252.70 M40.50 392.10 H252.70 M40.50 341.65 H252.70" stroke="#e3e3e3" stroke-width="0.8" fill="none"/>
<path d="M55.01 434.82 L55.35 418.33 L55.69 454.22 L56.03 460.46 L56.37 404.71 L56.71 416.66 L57.05 398.66 L57.39 450.33 L57.72 441.18 L58.06 397.34 L58.40 373.18 L58.74 453.25 L59.08 425.32 L59.42 429.45 L59.76 436.58 L60.10 461.72 L60.44 453.26 L60.77 442.11 L61.11 420.86 L61.45 470.45 L61.79 461.64 L62.13 451.49 L62.47 462.02 L62.81 458.37 L63.15 429.37 L63.48 416.32 L63.82 451.02 L64.16 454.66 L64.50 433.03 L64.84 433.57 L65.18 413.19 L65.52 394.12 L65.86 446.38 L66.20 430.82 L66.53 456.17 L66.87 425.71 L67.21 436.75 L67.55 438.56 L67.89 443.88 L68.23 440.00 L68.57 435.62 L68.91 457.69 L69.24 447.49 L69.58 436.26 L69.92 449.81 L70.26 438.87 L70.60 429.94 L70.94 440.27 L71.28 455.42 L71.62 441.55 L71.96 459.88 L72.29 457.49 L72.63 471.81 L72.97 452.33 L73.31 465.69 L73.65 466.30 L73.99 432.46 L74.33 453.99 L74.67 438.42 L75.00 457.16 L75.34 460.61 L75.68 466.77 L76.02 453.01 L76.36 417.10 L76.70 425.11 L77.04 414.80 L77.38 432.76 L77.72 464.00 L78.05 444.86 L78.39 434.49 L78.73 424.54 L79.07 412.78 L79.41 472.32 L79.75 458.29 L80.09 434.33 L80.43 424.05 L80.77 457.47 L81.10 436.67 L81.44 427.41 L81.78 465.37 L82.12 436.49 L82.46 440.48 L82.80 445.40 L83.14 467.77 L83.48 416.32 L83.81 428.94 L84.15 459.72 L84.49 454.24 L84.83 441.63 L85.17 446.22 L85.51 454.48 L85.85 459.13 L86.19 373.18 L86.53 414.14 L86.86 473.32 L87.20 451.53 L87.54 435.89 L87.88 445.00 L88.22 458.49 L88.56 424.89 L88.90 444.88 L89.24 444.92 L89.57 434.13 L89.91 466.77 L90.25 426.13 L90.59 405.22 L90.93 442.87 L91.27 453.92 L91.61 459.80 L91.95 457.41 L92.29 447.15 L92.62 419.85 L92.96 467.77 L93.30 461.96 L93.64 460.16 L93.98 464.54 L94.32 450.04 L94.66 427.41 L95.00 462.61 L95.33 432.44 L95.67 427.35 L96.01 455.97 L96.35 415.31 L96.69 398.66 L97.03 466.77 L97.37 438.56 L97.71 450.02 L98.05 458.88 L98.38 432.52 L98.72 417.02 L99.06 407.24 L99.40 424.55 L99.74 437.52 L100.08 390.08 L100.42 468.78 L100.76 434.88 L101.10 423.38 L101.43 435.42 L101.77 464.15 L102.11 460.83 L102.45 424.89 L102.79 436.75 L103.13 450.20 L103.47 442.45 L103.81 431.91 L104.14 469.79 L104.48 463.12 L104.82 437.74 L105.16 419.34 L105.50 426.60 L105.84 449.79 L106.18 452.42 L106.52 464.65 L106.86 401.18 L107.19 428.43 L107.53 476.10 L107.87 465.06 L108.21 429.35 L108.55 436.39 L108.89 447.18 L109.23 460.44 L109.57 422.37 L109.90 431.23 L110.24 459.58 L110.58 457.79 L110.92 444.13 L111.26 423.43 L111.60 399.16 L111.94 467.77 L112.28 451.64 L112.62 436.12 L112.95 448.35 L113.29 441.22 L113.63 434.31 L113.97 427.51 L114.31 428.22 L114.65 413.29 L114.99 444.89 L115.33 441.36 L115.66 470.30 L116.00 436.15 L116.34 431.91 L116.68 454.53 L117.02 427.41 L117.36 455.92 L117.70 457.76 L118.04 453.52 L118.38 454.85 L118.71 430.74 L119.05 419.85 L119.39 467.77 L119.73 444.66 L120.07 421.57 L120.41 404.21 L120.75 449.62 L121.09 433.10 L121.43 439.12 L121.76 453.77 L122.10 441.76 L122.44 467.77 L122.78 447.79 L123.12 421.36 L123.46 426.37 L123.80 437.92 L124.14 440.80 L124.47 456.62 L124.81 455.22 L125.15 457.11 L125.49 429.94 L125.83 460.71 L126.17 461.66 L126.51 443.02 L126.85 451.79 L127.19 470.80 L127.52 407.74 L127.86 440.29 L128.20 468.76 L128.54 433.42 L128.88 457.97 L129.22 446.13 L129.56 461.95 L129.90 444.32 L130.23 436.42 L130.57 429.94 L130.91 446.62 L131.25 456.52 L131.59 474.84 L131.93 462.03 L132.27 459.94 L132.61 452.30 L132.95 449.29 L133.28 452.42 L133.62 436.46 L133.96 428.42 L134.30 446.13 L134.64 458.65 L134.98 455.89 L135.32 464.07 L135.66 441.69 L136.00 471.81 L136.33 456.08 L136.67 466.28 L137.01 466.40 L137.35 439.71 L137.69 427.05 L138.03 434.35 L138.37 463.58 L138.71 469.29 L139.04 441.88 L139.38 442.21 L139.72 465.04 L140.06 397.14 L140.40 429.27 L140.74 477.87 L141.08 452.04 L141.42 453.51 L141.76 469.26 L142.09 427.41 L142.43 444.78 L142.77 470.34 L143.11 434.14 L143.45 436.61 L143.79 425.52 L144.13 407.24 L144.47 472.82 L144.80 462.06 L145.14 439.54 L145.48 462.84 L145.82 432.54 L146.16 468.48 L146.50 456.76 L146.84 442.29 L147.18 432.50 L147.52 412.78 L147.85 428.62 L148.19 443.44 L148.53 474.33 L148.87 424.63 L149.21 466.26 L149.55 416.29 L149.89 391.60 L150.23 469.29 L150.56 445.48 L150.90 458.94 L151.24 457.76 L151.58 468.46 L151.92 440.97 L152.26 429.94 L152.60 474.84 L152.94 463.26 L153.28 438.02 L153.61 453.82 L153.95 456.60 L154.29 413.29 L154.63 434.15 L154.97 442.45 L155.31 451.86 L155.65 481.09 L155.99 462.93 L156.33 429.21 L156.66 417.83 L157.00 459.91 L157.34 459.95 L157.68 448.26 L158.02 464.50 L158.36 444.54 L158.70 476.75 L159.04 480.39 L159.37 469.52 L159.71 461.52 L160.05 432.46 L160.39 437.80 L160.73 474.38 L161.07 444.89 L161.41 447.69 L161.75 475.85 L162.09 444.01 L162.42 449.64 L162.76 469.45 L163.10 466.20 L163.44 429.99 L163.78 420.35 L164.12 471.31 L164.46 477.87 L164.80 456.58 L165.13 446.72 L165.47 462.30 L165.81 468.82 L166.15 434.98 L166.49 465.14 L166.83 452.32 L167.17 463.99 L167.51 454.13 L167.85 434.92 L168.18 421.87 L168.52 473.58 L168.86 468.29 L169.20 448.10 L169.54 468.93 L169.88 469.43 L170.22 439.32 L170.56 418.33 L170.89 431.67 L171.23 468.63 L171.57 473.58 L171.91 454.60 L172.25 467.76 L172.59 470.06 L172.93 464.59 L173.27 434.98 L173.61 441.90 L173.94 450.51 L174.28 476.35 L174.62 464.19 L174.96 456.39 L175.30 470.43 L175.64 441.51 L175.98 427.41 L176.32 462.28 L176.66 472.82 L176.99 463.71 L177.33 453.10 L177.67 464.20 L178.01 430.95 L178.35 437.70 L178.69 437.73 L179.03 475.34 L179.37 468.77 L179.70 464.54 L180.04 437.50 L180.38 465.63 L180.72 450.44 L181.06 461.29 L181.40 468.42 L181.74 471.31 L182.08 413.29 L182.42 425.73 L182.75 461.21 L183.09 457.24 L183.43 453.08 L183.77 460.08 L184.11 417.32 L184.45 471.81 L184.79 438.94 L185.13 450.64 L185.46 453.51 L185.80 415.81 L186.14 433.97 L186.48 472.82 L186.82 458.29 L187.16 461.06 L187.50 464.81 L187.84 451.11 L188.18 438.01 L188.51 469.07 L188.85 473.50 L189.19 476.86 L189.53 466.78 L189.87 466.58 L190.21 465.84 L190.55 467.04 L190.89 481.09 L191.22 466.79 L191.56 447.60 L191.90 451.83 L192.24 470.78 L192.58 464.41 L192.92 469.58 L193.26 477.87 L193.60 462.99 L193.94 468.00 L194.27 459.26 L194.61 475.01 L194.95 445.07 L195.29 434.98 L195.63 480.39 L195.97 473.35 L196.31 466.27 L196.65 473.34 L196.99 471.76 L197.32 469.16 L197.66 446.59 L198.00 476.86 L198.34 473.74 L198.68 461.95 L199.02 473.93 L199.36 466.86 L199.70 476.86 L200.03 456.26 L200.37 471.32 L200.71 430.95 L201.05 442.83 L201.39 466.06 L201.73 476.35 L202.07 458.39 L202.41 461.72 L202.75 473.42 L203.08 469.32 L203.42 473.73 L203.76 477.36 L204.10 460.21 L204.44 463.66 L204.78 433.97 L205.12 452.59 L205.46 467.30 L205.79 463.50 L206.13 478.87 L206.47 469.80 L206.81 472.34 L207.15 450.12 L207.49 457.86 L207.83 476.88 L208.17 467.81 L208.51 481.64 L208.84 479.00 L209.18 445.07 L209.52 488.61 L209.86 477.65 L210.20 464.14 L210.54 478.37 L210.88 474.00 L211.22 472.71 L211.56 452.64 L211.89 473.55 L212.23 459.03 L212.57 479.38 L212.91 475.05 L213.25 462.13 L213.59 468.18 L213.93 472.45 L214.27 453.12 L214.60 445.07 L214.94 466.05 L215.28 477.87 L215.62 472.92 L215.96 474.06 L216.30 468.51 L216.64 467.15 L216.98 475.46 L217.32 461.19 L217.65 451.63 L217.99 480.39 L218.33 470.60 L218.67 463.03 L219.01 472.77 L219.35 469.58 L219.69 463.04 L220.03 477.87 L220.36 473.13 L220.70 467.39 L221.04 452.64 L221.38 458.72 L221.72 464.19 L222.06 472.50 L222.40 465.26 L222.74 479.38 L223.08 465.44 L223.41 475.07 L223.75 471.45 L224.09 467.37 L224.43 478.98 L224.77 457.20 L225.11 444.06 L225.45 474.37 L225.79 484.42 L226.12 476.37 L226.46 463.33 L226.80 468.18 L227.14 466.16 L227.48 461.12 L227.82 453.65 L228.16 477.36 L228.50 463.82 L228.84 455.72 L229.17 453.31 L229.51 446.59 L229.85 476.86 L230.19 463.27 L230.53 472.74 L230.87 470.20 L231.21 471.11 L231.55 478.87 L231.89 472.45 L232.22 470.48 L232.56 449.61 L232.90 457.39 L233.24 467.20 L233.58 481.90 L233.92 478.97 L234.26 465.70 L234.60 468.76 L234.93 455.41 L235.27 455.16 L235.61 467.55 L235.95 464.95 L236.29 480.89 L236.63 475.37 L236.97 470.63 L237.31 475.99 L237.65 447.09 L237.98 457.48 L238.32 482.30 L238.66 486.14 L239.00 462.89 L239.34 475.12 L239.68 471.80 L240.02 467.27 L240.36 472.56 L240.69 426.41 L241.03 479.88 L241.37 471.48 L241.71 460.31 L242.05 467.87 L242.39 473.31 L242.73 481.90 L243.07 468.07 L243.41 447.42 L243.74 472.78 L244.08 440.53 L244.42 455.58 L244.76 481.90 L245.10 466.36 L245.44 472.84 L245.78 471.99 L246.12 455.67 L246.45 477.84 L246.79 485.43 L247.13 471.16 L247.47 470.30 L247.81 460.21 L248.15 475.10 L248.49 474.68 L248.83 482.91 L249.17 478.26 L249.50 481.98 L249.84 483.62 L250.18 481.93 L250.52 469.87 L250.86 464.24 L251.20 482.91" fill="none" stroke="#0570be" stroke-width="1.62" stroke-linejoin="bevel"/>
<path d="M55.01 313.40 L55.35 316.03 L55.69 317.96 L56.03 322.10 L56.37 325.99 L56.71 329.48 L57.05 330.82 L57.39 328.68 L57.72 329.90 L58.06 331.92 L58.40 334.95 L58.74 334.84 L59.08 335.85 L59.42 335.93 L59.76 337.02 L60.10 339.86 L60.44 341.76 L60.77 343.04 L61.11 341.34 L61.45 345.36 L61.79 342.38 L62.13 341.95 L62.47 342.93 L62.81 340.96 L63.15 341.35 L63.48 343.14 L63.82 343.98 L64.16 343.83 L64.50 342.23 L64.84 342.94 L65.18 342.23 L65.52 341.91 L65.86 341.33 L66.20 339.71 L66.53 341.84 L66.87 342.50 L67.21 346.05 L67.55 344.04 L67.89 342.64 L68.23 341.48 L68.57 344.12 L68.91 342.42 L69.24 343.38 L69.58 345.60 L69.92 345.21 L70.26 345.36 L70.60 347.45 L70.94 347.09 L71.28 346.99 L71.62 346.98 L71.96 345.99 L72.29 349.03 L72.63 352.47 L72.97 352.17 L73.31 348.79 L73.65 351.26 L73.99 350.83 L74.33 348.04 L74.67 349.62 L75.00 349.37 L75.34 350.61 L75.68 348.82 L76.02 345.90 L76.36 348.33 L76.70 347.82 L77.04 349.05 L77.38 348.86 L77.72 348.02 L78.05 349.16 L78.39 349.32 L78.73 346.94 L79.07 351.59 L79.41 351.12 L79.75 352.79 L80.09 352.43 L80.43 349.66 L80.77 350.50 L81.10 350.86 L81.44 353.02 L81.78 352.13 L82.12 351.34 L82.46 351.04 L82.80 350.15 L83.14 348.56 L83.48 350.89 L83.81 351.52 L84.15 349.36 L84.49 349.99 L84.83 349.64 L85.17 351.51 L85.51 350.14 L85.85 352.76 L86.19 349.05 L86.53 355.26 L86.86 357.07 L87.20 358.12 L87.54 358.88 L87.88 362.00 L88.22 361.86 L88.56 359.45 L88.90 362.20 L89.24 362.93 L89.57 362.47 L89.91 361.79 L90.25 362.63 L90.59 364.84 L90.93 364.17 L91.27 361.59 L91.61 365.97 L91.95 365.55 L92.29 364.23 L92.62 362.46 L92.96 358.64 L93.30 358.52 L93.64 357.45 L93.98 361.54 L94.32 361.62 L94.66 358.89 L95.00 362.65 L95.33 364.09 L95.67 366.62 L96.01 361.96 L96.35 364.81 L96.69 367.41 L97.03 366.01 L97.37 366.83 L97.71 367.35 L98.05 366.78 L98.38 367.53 L98.72 364.44 L99.06 364.92 L99.40 367.79 L99.74 363.96 L100.08 362.99 L100.42 362.55 L100.76 360.36 L101.10 357.44 L101.43 360.09 L101.77 358.10 L102.11 359.28 L102.45 359.40 L102.79 360.06 L103.13 358.81 L103.47 358.87 L103.81 359.42 L104.14 360.32 L104.48 361.14 L104.82 361.83 L105.16 362.50 L105.50 357.15 L105.84 359.67 L106.18 359.51 L106.52 360.49 L106.86 359.10 L107.19 360.76 L107.53 361.37 L107.87 360.73 L108.21 360.30 L108.55 361.95 L108.89 363.37 L109.23 364.57 L109.57 362.63 L109.90 361.63 L110.24 362.54 L110.58 363.96 L110.92 366.17 L111.26 369.41 L111.60 369.23 L111.94 370.20 L112.28 373.36 L112.62 373.17 L112.95 374.23 L113.29 370.03 L113.63 371.32 L113.97 370.36 L114.31 371.68 L114.65 373.24 L114.99 373.48 L115.33 370.45 L115.66 372.44 L116.00 373.54 L116.34 374.73 L116.68 375.81 L117.02 374.70 L117.36 377.44 L117.70 375.39 L118.04 375.98 L118.38 373.97 L118.71 377.37 L119.05 375.88 L119.39 377.29 L119.73 377.27 L120.07 376.13 L120.41 377.96 L120.75 379.33 L121.09 352.75 L121.43 377.04 L121.76 380.62 L122.10 380.56 L122.44 377.14 L122.78 378.55 L123.12 376.94 L123.46 375.18 L123.80 379.37 L124.14 380.74 L124.47 377.15 L124.81 377.52 L125.15 376.32 L125.49 377.71 L125.83 378.37 L126.17 380.60 L126.51 379.44 L126.85 381.62 L127.19 384.10 L127.52 383.15 L127.86 382.47 L128.20 384.58 L128.54 383.73 L128.88 384.41 L129.22 382.78 L129.56 381.11 L129.90 385.12 L130.23 383.78 L130.57 384.57 L130.91 384.99 L131.25 383.15 L131.59 382.00 L131.93 383.49 L132.27 384.99 L132.61 381.87 L132.95 383.06 L133.28 387.00 L133.62 385.71 L133.96 383.10 L134.30 384.76 L134.64 385.18 L134.98 384.88 L135.32 388.29 L135.66 384.54 L136.00 386.07 L136.33 389.75 L136.67 386.35 L137.01 387.59 L137.35 387.78 L137.69 392.64 L138.03 389.68 L138.37 387.49 L138.71 387.33 L139.04 394.12 L139.38 391.28 L139.72 389.12 L140.06 389.10 L140.40 390.64 L140.74 386.59 L141.08 388.97 L141.42 387.42 L141.76 387.63 L142.09 387.77 L142.43 388.74 L142.77 384.86 L143.11 388.18 L143.45 389.84 L143.79 386.61 L144.13 381.27 L144.47 383.06 L144.80 386.79 L145.14 388.32 L145.48 388.43 L145.82 387.35 L146.16 389.62 L146.50 389.13 L146.84 387.75 L147.18 388.52 L147.52 387.49 L147.85 390.57 L148.19 390.54 L148.53 390.19 L148.87 387.44 L149.21 389.73 L149.55 388.12 L149.89 386.36 L150.23 385.98 L150.56 387.07 L150.90 388.26 L151.24 387.70 L151.58 389.17 L151.92 390.76 L152.26 393.71 L152.60 396.07 L152.94 394.49 L153.28 394.85 L153.61 394.56 L153.95 394.33 L154.29 396.64 L154.63 398.07 L154.97 404.21 L155.31 395.62 L155.65 396.21 L155.99 397.02 L156.33 397.38 L156.66 395.96 L157.00 398.25 L157.34 397.90 L157.68 398.14 L158.02 398.21 L158.36 394.34 L158.70 394.00 L159.04 394.25 L159.37 396.00 L159.71 398.40 L160.05 398.97 L160.39 400.87 L160.73 402.82 L161.07 399.30 L161.41 399.76 L161.75 400.22 L162.09 397.45 L162.42 397.83 L162.76 398.87 L163.10 401.93 L163.44 400.56 L163.78 401.95 L164.12 402.90 L164.46 403.76 L164.80 402.63 L165.13 398.43 L165.47 403.43 L165.81 403.47 L166.15 403.09 L166.49 400.91 L166.83 402.61 L167.17 402.54 L167.51 403.09 L167.85 405.25 L168.18 404.32 L168.52 405.13 L168.86 403.79 L169.20 407.74 L169.54 404.53 L169.88 404.14 L170.22 405.47 L170.56 405.13 L170.89 404.68 L171.23 402.81 L171.57 401.73 L171.91 403.66 L172.25 405.43 L172.59 404.83 L172.93 403.13 L173.27 401.99 L173.61 406.54 L173.94 407.74 L174.28 404.16 L174.62 404.17 L174.96 402.29 L175.30 404.64 L175.64 400.68 L175.98 406.19 L176.32 404.02 L176.66 406.57 L176.99 404.87 L177.33 403.36 L177.67 404.05 L178.01 406.78 L178.35 404.36 L178.69 405.75 L179.03 405.76 L179.37 405.67 L179.70 403.40 L180.04 406.23 L180.38 405.78 L180.72 405.51 L181.06 406.33 L181.40 409.16 L181.74 411.44 L182.08 410.33 L182.42 408.39 L182.75 411.01 L183.09 409.75 L183.43 411.85 L183.77 410.98 L184.11 410.48 L184.45 411.84 L184.79 412.31 L185.13 412.25 L185.46 412.15 L185.80 412.96 L186.14 409.42 L186.48 410.10 L186.82 410.05 L187.16 412.88 L187.50 411.40 L187.84 412.22 L188.18 413.81 L188.51 410.89 L188.85 410.90 L189.19 414.74 L189.53 414.49 L189.87 414.81 L190.21 416.16 L190.55 417.66 L190.89 417.63 L191.22 416.16 L191.56 413.74 L191.90 411.49 L192.24 413.02 L192.58 416.05 L192.92 417.80 L193.26 418.17 L193.60 417.09 L193.94 419.17 L194.27 421.84 L194.61 416.41 L194.95 415.58 L195.29 417.66 L195.63 413.99 L195.97 416.22 L196.31 417.41 L196.65 414.67 L196.99 418.73 L197.32 414.96 L197.66 414.94 L198.00 420.05 L198.34 418.39 L198.68 418.31 L199.02 415.23 L199.36 416.13 L199.70 415.55 L200.03 415.03 L200.37 415.42 L200.71 418.40 L201.05 418.50 L201.39 417.86 L201.73 417.62 L202.07 418.29 L202.41 418.16 L202.75 421.67 L203.08 421.03 L203.42 423.32 L203.76 419.45 L204.10 420.78 L204.44 418.40 L204.78 419.79 L205.12 421.37 L205.46 420.03 L205.79 418.89 L206.13 420.90 L206.47 424.97 L206.81 423.03 L207.15 420.05 L207.49 421.15 L207.83 422.27 L208.17 423.90 L208.51 421.88 L208.84 421.71 L209.18 422.26 L209.52 421.94 L209.86 423.39 L210.20 422.97 L210.54 420.85 L210.88 424.59 L211.22 423.14 L211.56 422.75 L211.89 422.06 L212.23 421.59 L212.57 424.99 L212.91 426.39 L213.25 427.03 L213.59 426.60 L213.93 424.97 L214.27 427.61 L214.60 426.10 L214.94 424.77 L215.28 427.81 L215.62 444.06 L215.96 428.07 L216.30 426.14 L216.64 429.44 L216.98 427.85 L217.32 427.12 L217.65 427.70 L217.99 425.24 L218.33 427.21 L218.67 424.85 L219.01 426.28 L219.35 424.12 L219.69 425.05 L220.03 425.94 L220.36 425.51 L220.70 427.42 L221.04 424.88 L221.38 422.75 L221.72 423.88 L222.06 424.84 L222.40 424.97 L222.74 427.63 L223.08 424.75 L223.41 422.39 L223.75 422.28 L224.09 423.72 L224.43 423.91 L224.77 423.25 L225.11 420.70 L225.45 425.44 L225.79 425.57 L226.12 426.58 L226.46 422.64 L226.80 422.80 L227.14 421.02 L227.48 421.73 L227.82 422.19 L228.16 420.56 L228.50 421.29 L228.84 412.78 L229.17 422.63 L229.51 424.11 L229.85 425.53 L230.19 427.25 L230.53 430.09 L230.87 430.45 L231.21 430.42 L231.55 429.10 L231.89 427.25 L232.22 429.07 L232.56 429.93 L232.90 433.91 L233.24 433.20 L233.58 431.76 L233.92 433.67 L234.26 435.66 L234.60 433.87 L234.93 433.12 L235.27 436.52 L235.61 434.93 L235.95 435.06 L236.29 433.03 L236.63 410.77 L236.97 430.22 L237.31 429.10 L237.65 430.58 L237.98 427.60 L238.32 431.21 L238.66 430.86 L239.00 425.79 L239.34 406.73 L239.68 428.83 L240.02 429.04 L240.36 431.30 L240.69 428.19 L241.03 430.53 L241.37 429.08 L241.71 427.56 L242.05 428.17 L242.39 428.65 L242.73 427.83 L243.07 426.57 L243.41 425.66 L243.74 428.19 L244.08 426.23 L244.42 425.79 L244.76 424.84 L245.10 423.20 L245.44 424.17 L245.78 423.54 L246.12 423.81 L246.45 421.84 L246.79 421.03 L247.13 423.21 L247.47 422.65 L247.81 414.30 L248.15 427.45 L248.49 426.31 L248.83 427.97 L249.17 432.74 L249.50 438.36 L249.84 431.47 L250.18 428.54 L250.52 435.99 L250.86 419.34 L251.20 434.10" fill="none" stroke="#66a820" stroke-width="1.6" stroke-linejoin="bevel"/>
<path d="M64.08 493.00 v-2.10 M64.08 291.20 v2.10 M111.23 493.00 v-2.10 M111.23 291.20 v2.10 M158.39 493.00 v-2.10 M158.39 291.20 v2.10 M205.54 493.00 v-2.10 M205.54 291.20 v2.10 M252.70 493.00 v-2.10 M252.70 291.20 v2.10 M40.50 493.00 h2.10 M252.70 493.00 h-2.10 M40.50 442.55 h2.10 M252.70 442.55 h-2.10 M40.50 392.10 h2.10 M252.70 392.10 h-2.10 M40.50 341.65 h2.10 M252.70 341.65 h-2.10 M40.50 291.20 h2.10 M252.70 291.20 h-2.10" stroke="#555" stroke-width="0.8" fill="none"/>
<rect x="40.50" y="291.20" width="212.20" height="201.80" fill="none" stroke="#666" stroke-width="0.85"/>
<text class="tk" x="64.08" y="509.40" text-anchor="middle">3400</text>
<text class="tk" x="111.23" y="509.40" text-anchor="middle">3600</text>
<text class="tk" x="158.39" y="509.40" text-anchor="middle">3800</text>
<text class="tk" x="205.54" y="509.40" text-anchor="middle">4000</text>
<text class="tk" x="252.70" y="509.40" text-anchor="middle">4200</text>
<text class="tk" x="35.90" y="497.60" text-anchor="end">0</text>
<text class="tk" x="35.90" y="447.15" text-anchor="end">10</text>
<text class="tk" x="35.90" y="396.70" text-anchor="end">20</text>
<text class="tk" x="35.90" y="346.25" text-anchor="end">30</text>
<text class="tk" x="35.90" y="295.80" text-anchor="end">40</text>
<text class="lb" x="146.60" y="526.80" text-anchor="middle">Measure Depth(m)</text>
<text class="lb" transform="translate(16.30 392.10) rotate(-90)" text-anchor="middle">ROP(m/h)</text>
<path d="M86.40 309.65 h34.9" stroke="#0570be" stroke-width="1.5" fill="none"/>
<path d="M86.40 324.00 h34.9" stroke="#66a820" stroke-width="1.5" fill="none"/>
<text class="lg" x="124.50" y="314.05">Measure values</text>
<text class="lg" x="124.50" y="328.45">conventional ANN model</text>
</g>
<g>
<rect x="322.00" y="291.20" width="212.00" height="201.80" fill="#fff"/>
<path d="M345.56 291.20 V493.00 M392.67 291.20 V493.00 M439.78 291.20 V493.00 M486.89 291.20 V493.00 M322.00 452.64 H534.00 M322.00 412.28 H534.00 M322.00 371.92 H534.00 M322.00 331.56 H534.00" stroke="#e3e3e3" stroke-width="0.8" fill="none"/>
<path d="M336.50 399.91 L336.84 373.53 L337.18 430.96 L337.52 440.94 L337.85 351.74 L338.19 370.86 L338.53 342.05 L338.87 424.73 L339.21 410.09 L339.55 339.94 L339.89 301.29 L340.22 429.40 L340.56 384.70 L340.90 391.32 L341.24 402.73 L341.58 442.95 L341.92 429.42 L342.25 411.57 L342.59 377.57 L342.93 456.92 L343.27 442.82 L343.61 426.58 L343.95 443.44 L344.29 437.60 L344.62 391.20 L344.96 370.31 L345.30 425.84 L345.64 431.65 L345.98 397.04 L346.32 397.91 L346.66 365.30 L346.99 334.79 L347.33 418.42 L347.67 393.51 L348.01 434.07 L348.35 385.34 L348.69 403.00 L349.03 405.89 L349.36 414.41 L349.70 408.20 L350.04 401.19 L350.38 436.50 L350.72 420.18 L351.06 402.21 L351.39 423.90 L351.73 406.40 L352.07 392.10 L352.41 408.64 L352.75 432.88 L353.09 410.68 L353.43 440.01 L353.76 436.18 L354.10 459.10 L354.44 427.93 L354.78 449.30 L355.12 450.27 L355.46 396.14 L355.80 430.58 L356.13 405.68 L356.47 435.65 L356.81 441.18 L357.15 451.03 L357.49 429.01 L357.83 371.56 L358.16 384.38 L358.50 367.88 L358.84 396.62 L359.18 446.59 L359.52 415.97 L359.86 399.38 L360.20 383.47 L360.53 364.66 L360.87 459.90 L361.21 437.47 L361.55 399.13 L361.89 382.67 L362.23 436.16 L362.57 402.88 L362.90 388.06 L363.24 448.79 L363.58 402.58 L363.92 408.98 L364.26 416.84 L364.60 452.64 L364.94 370.31 L365.27 390.50 L365.61 439.75 L365.95 430.99 L366.29 410.81 L366.63 418.15 L366.97 431.37 L367.30 438.80 L367.64 301.29 L367.98 366.82 L368.32 461.52 L368.66 426.65 L369.00 401.63 L369.34 416.21 L369.67 437.79 L370.01 384.03 L370.35 416.01 L370.69 416.07 L371.03 398.81 L371.37 451.03 L371.71 386.00 L372.04 352.55 L372.38 412.80 L372.72 430.47 L373.06 439.88 L373.40 436.05 L373.74 419.64 L374.08 375.96 L374.41 452.64 L374.75 443.33 L375.09 440.45 L375.43 447.47 L375.77 424.26 L376.11 388.06 L376.44 444.38 L376.78 396.11 L377.12 387.96 L377.46 433.75 L377.80 368.69 L378.14 342.05 L378.48 451.03 L378.81 405.89 L379.15 424.23 L379.49 438.40 L379.83 396.23 L380.17 371.43 L380.51 355.78 L380.85 383.48 L381.18 404.24 L381.52 328.33 L381.86 454.25 L382.20 400.00 L382.54 381.61 L382.88 400.86 L383.22 446.83 L383.55 441.52 L383.89 384.03 L384.23 403.01 L384.57 424.53 L384.91 412.11 L385.25 395.25 L385.58 455.87 L385.92 445.20 L386.26 404.58 L386.60 375.15 L386.94 386.76 L387.28 423.87 L387.62 428.07 L387.95 447.65 L388.29 346.09 L388.63 389.70 L388.97 465.96 L389.31 448.29 L389.65 391.15 L389.99 402.42 L390.32 419.68 L390.66 440.90 L391.00 379.99 L391.34 394.17 L391.68 439.52 L392.02 436.67 L392.35 414.81 L392.69 381.69 L393.03 342.86 L393.37 452.64 L393.71 426.82 L394.05 401.99 L394.39 421.57 L394.72 410.15 L395.06 399.10 L395.40 388.22 L395.74 389.36 L396.08 365.46 L396.42 416.02 L396.76 410.37 L397.09 456.68 L397.43 402.04 L397.77 395.26 L398.11 431.45 L398.45 388.06 L398.79 433.67 L399.13 436.61 L399.46 429.83 L399.80 431.96 L400.14 393.38 L400.48 375.96 L400.82 452.64 L401.16 415.66 L401.49 378.71 L401.83 350.93 L402.17 423.59 L402.51 397.17 L402.85 406.78 L403.19 430.23 L403.53 411.01 L403.86 452.64 L404.20 420.67 L404.54 378.38 L404.88 386.39 L405.22 404.87 L405.56 409.48 L405.90 434.79 L406.23 432.55 L406.57 435.58 L406.91 392.10 L407.25 441.33 L407.59 442.85 L407.93 413.03 L408.27 427.06 L408.60 457.48 L408.94 356.58 L409.28 408.66 L409.62 454.22 L409.96 397.68 L410.30 436.95 L410.63 418.00 L410.97 443.32 L411.31 415.12 L411.65 402.48 L411.99 392.10 L412.33 418.79 L412.67 434.64 L413.00 463.94 L413.34 443.46 L413.68 440.11 L414.02 427.88 L414.36 423.06 L414.70 428.07 L415.04 402.53 L415.37 389.68 L415.71 418.00 L416.05 438.04 L416.39 433.62 L416.73 446.72 L417.07 410.91 L417.41 459.10 L417.74 433.93 L418.08 450.25 L418.42 450.44 L418.76 407.74 L419.10 387.48 L419.44 399.16 L419.77 445.92 L420.11 455.06 L420.45 411.20 L420.79 411.74 L421.13 448.27 L421.47 339.63 L421.81 391.03 L422.14 468.78 L422.48 427.46 L422.82 429.82 L423.16 455.02 L423.50 388.06 L423.84 415.85 L424.18 456.74 L424.51 398.82 L424.85 402.78 L425.19 385.04 L425.53 355.78 L425.87 460.71 L426.21 443.49 L426.54 407.46 L426.88 444.74 L427.22 396.27 L427.56 453.77 L427.90 435.02 L428.24 411.86 L428.58 396.21 L428.91 364.66 L429.25 389.99 L429.59 413.70 L429.93 463.13 L430.27 383.61 L430.61 450.22 L430.95 370.27 L431.28 330.75 L431.62 455.06 L431.96 416.97 L432.30 438.50 L432.64 436.61 L432.98 453.74 L433.32 409.75 L433.65 392.10 L433.99 463.94 L434.33 445.41 L434.67 405.03 L435.01 430.31 L435.35 434.77 L435.68 365.46 L436.02 398.83 L436.36 412.13 L436.70 427.17 L437.04 473.95 L437.38 444.89 L437.72 390.94 L438.05 372.73 L438.39 440.06 L438.73 440.13 L439.07 421.42 L439.41 447.39 L439.75 415.47 L440.09 467.00 L440.42 472.82 L440.76 455.44 L441.10 442.64 L441.44 396.14 L441.78 404.67 L442.12 463.21 L442.46 416.02 L442.79 420.50 L443.13 465.56 L443.47 414.62 L443.81 423.62 L444.15 455.31 L444.49 450.12 L444.82 392.18 L445.16 376.76 L445.50 458.30 L445.84 468.78 L446.18 434.73 L446.52 418.94 L446.86 443.88 L447.19 454.31 L447.53 400.17 L447.87 448.43 L448.21 427.91 L448.55 446.58 L448.89 430.80 L449.23 400.07 L449.56 379.18 L449.90 461.92 L450.24 453.46 L450.58 421.17 L450.92 454.48 L451.26 455.29 L451.59 407.12 L451.93 373.53 L452.27 394.88 L452.61 454.00 L452.95 461.92 L453.29 431.56 L453.63 452.62 L453.96 456.29 L454.30 447.54 L454.64 400.17 L454.98 411.23 L455.32 425.01 L455.66 466.36 L456.00 446.91 L456.33 434.42 L456.67 456.89 L457.01 410.61 L457.35 388.06 L457.69 443.85 L458.03 460.71 L458.37 446.14 L458.70 429.16 L459.04 446.92 L459.38 393.71 L459.72 404.53 L460.06 404.57 L460.40 464.75 L460.73 454.22 L461.07 447.46 L461.41 404.21 L461.75 449.21 L462.09 424.90 L462.43 442.26 L462.77 453.66 L463.10 458.29 L463.44 365.46 L463.78 385.37 L464.12 442.14 L464.46 435.79 L464.80 429.13 L465.14 440.32 L465.47 371.92 L465.81 459.10 L466.15 406.51 L466.49 425.22 L466.83 429.81 L467.17 369.50 L467.51 398.56 L467.84 460.71 L468.18 437.46 L468.52 441.90 L468.86 447.90 L469.20 425.98 L469.54 405.02 L469.87 454.71 L470.21 461.80 L470.55 467.17 L470.89 451.04 L471.23 450.73 L471.57 449.55 L471.91 451.47 L472.24 473.95 L472.58 451.06 L472.92 420.35 L473.26 427.13 L473.60 457.45 L473.94 447.26 L474.28 455.52 L474.61 468.78 L474.95 444.98 L475.29 453.01 L475.63 439.01 L475.97 464.21 L476.31 416.32 L476.65 400.17 L476.98 472.82 L477.32 461.57 L477.66 450.23 L478.00 461.55 L478.34 459.01 L478.68 454.86 L479.01 418.74 L479.35 467.17 L479.69 462.18 L480.03 443.32 L480.37 462.49 L480.71 451.18 L481.05 467.17 L481.38 434.21 L481.72 458.31 L482.06 393.71 L482.40 412.72 L482.74 449.89 L483.08 466.36 L483.42 437.63 L483.75 442.95 L484.09 461.68 L484.43 455.11 L484.77 462.16 L485.11 467.98 L485.45 440.53 L485.78 446.06 L486.12 398.56 L486.46 428.34 L486.80 451.89 L487.14 445.80 L487.48 470.40 L487.82 455.88 L488.15 459.95 L488.49 424.39 L488.83 436.78 L489.17 467.21 L489.51 452.70 L489.85 474.82 L490.19 470.60 L490.52 416.32 L490.86 485.98 L491.20 468.43 L491.54 446.82 L491.88 469.59 L492.22 462.59 L492.56 460.53 L492.89 428.42 L493.23 461.88 L493.57 438.64 L493.91 471.21 L494.25 464.28 L494.59 443.61 L494.92 453.29 L495.26 460.13 L495.60 429.20 L495.94 416.32 L496.28 449.88 L496.62 468.78 L496.96 460.87 L497.29 462.70 L497.63 453.82 L497.97 451.64 L498.31 464.94 L498.65 442.10 L498.99 426.81 L499.33 472.82 L499.66 457.16 L500.00 445.05 L500.34 460.64 L500.68 455.53 L501.02 445.06 L501.36 468.78 L501.70 461.20 L502.03 452.02 L502.37 428.42 L502.71 438.16 L503.05 446.90 L503.39 460.20 L503.73 448.61 L504.06 471.21 L504.40 448.90 L504.74 464.31 L505.08 458.52 L505.42 451.99 L505.76 470.56 L506.10 435.72 L506.43 414.70 L506.77 463.19 L507.11 479.28 L507.45 466.40 L507.79 445.52 L508.13 453.30 L508.47 450.06 L508.80 441.99 L509.14 430.04 L509.48 467.98 L509.82 446.31 L510.16 433.35 L510.50 429.49 L510.84 418.74 L511.17 467.17 L511.51 445.44 L511.85 460.58 L512.19 456.53 L512.53 457.98 L512.87 470.40 L513.20 460.13 L513.54 456.97 L513.88 423.58 L514.22 436.02 L514.56 451.72 L514.90 475.24 L515.24 470.56 L515.57 449.31 L515.91 454.22 L516.25 432.86 L516.59 432.46 L516.93 452.29 L517.27 448.13 L517.61 473.63 L517.94 464.79 L518.28 457.21 L518.62 465.78 L518.96 419.54 L519.30 436.17 L519.64 475.88 L519.97 482.02 L520.31 444.82 L520.65 464.39 L520.99 459.08 L521.33 451.83 L521.67 460.29 L522.01 386.45 L522.34 472.01 L522.68 458.56 L523.02 440.69 L523.36 452.79 L523.70 461.49 L524.04 475.24 L524.38 453.12 L524.71 420.07 L525.05 460.65 L525.39 409.05 L525.73 433.13 L526.07 475.24 L526.41 450.38 L526.75 460.74 L527.08 459.38 L527.42 433.27 L527.76 468.74 L528.10 480.89 L528.44 458.05 L528.78 456.68 L529.11 440.53 L529.45 464.35 L529.79 463.69 L530.13 476.86 L530.47 469.42 L530.81 475.37 L531.15 477.99 L531.48 475.29 L531.82 456.00 L532.16 446.99 L532.50 476.86" fill="none" stroke="#0570be" stroke-width="1.62" stroke-linejoin="bevel"/>
<path d="M336.50 423.58 L336.84 410.67 L337.18 407.87 L337.52 404.92 L337.85 405.45 L338.19 407.58 L338.53 401.38 L338.87 400.57 L339.21 394.87 L339.55 405.56 L339.89 400.65 L340.22 403.48 L340.56 407.28 L340.90 410.98 L341.24 407.90 L341.58 416.60 L341.92 412.31 L342.25 411.70 L342.59 412.17 L342.93 408.53 L343.27 411.99 L343.61 406.73 L343.95 411.60 L344.29 411.89 L344.62 411.55 L344.96 408.90 L345.30 407.79 L345.64 402.88 L345.98 404.95 L346.32 404.33 L346.66 411.60 L346.99 405.66 L347.33 401.83 L347.67 404.51 L348.01 402.26 L348.35 405.77 L348.69 408.76 L349.03 408.42 L349.36 410.33 L349.70 403.78 L350.04 406.50 L350.38 414.22 L350.72 411.04 L351.06 410.38 L351.39 414.90 L351.73 416.04 L352.07 410.93 L352.41 408.63 L352.75 416.15 L353.09 414.14 L353.43 415.73 L353.76 418.29 L354.10 421.05 L354.44 422.33 L354.78 419.13 L355.12 420.13 L355.46 420.25 L355.80 420.23 L356.13 421.15 L356.47 412.91 L356.81 417.06 L357.15 418.90 L357.49 416.78 L357.83 417.84 L358.16 408.10 L358.50 410.83 L358.84 410.31 L359.18 415.43 L359.52 411.77 L359.86 416.84 L360.20 410.90 L360.53 416.92 L360.87 419.42 L361.21 414.08 L361.55 408.72 L361.89 413.78 L362.23 419.30 L362.57 411.40 L362.90 411.60 L363.24 414.17 L363.58 412.85 L363.92 417.26 L364.26 407.33 L364.60 415.71 L364.94 415.94 L365.27 416.84 L365.61 412.32 L365.95 417.79 L366.29 419.51 L366.63 417.98 L366.97 418.29 L367.30 414.41 L367.64 413.20 L367.98 421.68 L368.32 412.12 L368.66 420.23 L369.00 417.43 L369.34 413.99 L369.67 414.46 L370.01 416.83 L370.35 418.06 L370.69 414.57 L371.03 414.10 L371.37 415.98 L371.71 416.43 L372.04 413.94 L372.38 409.87 L372.72 411.94 L373.06 420.05 L373.40 414.91 L373.74 415.28 L374.08 424.25 L374.41 418.08 L374.75 412.68 L375.09 419.39 L375.43 420.52 L375.77 413.40 L376.11 413.78 L376.44 409.42 L376.78 411.92 L377.12 410.50 L377.46 410.14 L377.80 412.60 L378.14 417.62 L378.48 409.07 L378.81 406.49 L379.15 415.03 L379.49 410.35 L379.83 410.66 L380.17 402.32 L380.51 411.16 L380.85 413.27 L381.18 402.95 L381.52 410.15 L381.86 412.84 L382.20 404.21 L382.54 406.01 L382.88 414.80 L383.22 412.05 L383.55 413.77 L383.89 415.85 L384.23 408.06 L384.57 419.81 L384.91 412.69 L385.25 415.77 L385.58 412.48 L385.92 413.01 L386.26 416.58 L386.60 418.33 L386.94 418.45 L387.28 413.02 L387.62 417.34 L387.95 418.48 L388.29 422.33 L388.63 422.02 L388.97 415.38 L389.31 418.27 L389.65 419.57 L389.99 413.33 L390.32 420.16 L390.66 418.50 L391.00 419.15 L391.34 418.28 L391.68 426.98 L392.02 423.51 L392.35 424.94 L392.69 418.03 L393.03 425.49 L393.37 415.98 L393.71 420.37 L394.05 426.00 L394.39 425.93 L394.72 421.86 L395.06 426.07 L395.40 418.61 L395.74 427.17 L396.08 429.71 L396.42 421.42 L396.76 424.32 L397.09 421.02 L397.43 416.11 L397.77 426.08 L398.11 423.53 L398.45 426.88 L398.79 424.59 L399.13 422.31 L399.46 421.70 L399.80 425.00 L400.14 421.50 L400.48 424.46 L400.82 422.73 L401.16 412.30 L401.49 419.30 L401.83 417.75 L402.17 424.03 L402.51 413.73 L402.85 419.56 L403.19 414.54 L403.53 419.60 L403.86 420.54 L404.20 419.66 L404.54 417.08 L404.88 415.65 L405.22 414.18 L405.56 412.07 L405.90 420.74 L406.23 416.99 L406.57 417.40 L406.91 413.24 L407.25 423.45 L407.59 416.56 L407.93 415.14 L408.27 421.81 L408.60 426.18 L408.94 422.98 L409.28 425.26 L409.62 426.51 L409.96 421.98 L410.30 418.97 L410.63 418.24 L410.97 417.24 L411.31 425.80 L411.65 419.34 L411.99 421.26 L412.33 424.16 L412.67 420.04 L413.00 417.82 L413.34 423.71 L413.68 433.16 L414.02 425.21 L414.36 428.00 L414.70 428.27 L415.04 417.29 L415.37 421.38 L415.71 420.40 L416.05 422.32 L416.39 423.71 L416.73 417.55 L417.07 423.49 L417.41 425.73 L417.74 429.06 L418.08 424.48 L418.42 427.88 L418.76 426.81 L419.10 424.89 L419.44 428.01 L419.77 431.04 L420.11 429.36 L420.45 423.31 L420.79 425.10 L421.13 425.66 L421.47 431.16 L421.81 425.28 L422.14 427.16 L422.48 431.06 L422.82 424.85 L423.16 427.72 L423.50 426.70 L423.84 428.68 L424.18 431.77 L424.51 425.38 L424.85 430.73 L425.19 430.82 L425.53 426.92 L425.87 431.47 L426.21 429.72 L426.54 428.90 L426.88 429.28 L427.22 424.17 L427.56 423.58 L427.90 431.96 L428.24 421.54 L428.58 423.90 L428.91 426.56 L429.25 422.98 L429.59 427.73 L429.93 421.46 L430.27 421.67 L430.61 420.70 L430.95 421.70 L431.28 428.45 L431.62 426.59 L431.96 431.02 L432.30 420.36 L432.64 428.66 L432.98 433.57 L433.32 427.05 L433.65 431.29 L433.99 431.01 L434.33 430.53 L434.67 427.32 L435.01 430.81 L435.35 429.36 L435.68 433.40 L436.02 433.27 L436.36 436.24 L436.70 440.17 L437.04 427.58 L437.38 428.95 L437.72 435.36 L438.05 436.53 L438.39 433.12 L438.73 437.19 L439.07 437.44 L439.41 434.97 L439.75 436.67 L440.09 432.85 L440.42 437.41 L440.76 433.78 L441.10 433.15 L441.44 436.57 L441.78 431.28 L442.12 431.61 L442.46 428.66 L442.79 429.59 L443.13 431.71 L443.47 439.63 L443.81 432.84 L444.15 434.48 L444.49 432.62 L444.82 435.69 L445.16 441.41 L445.50 439.77 L445.84 434.33 L446.18 436.64 L446.52 438.84 L446.86 442.83 L447.19 442.41 L447.53 443.08 L447.87 430.94 L448.21 430.58 L448.55 437.40 L448.89 433.54 L449.23 433.68 L449.56 432.03 L449.90 438.26 L450.24 440.30 L450.58 429.67 L450.92 433.25 L451.26 429.70 L451.59 431.05 L451.93 432.63 L452.27 432.93 L452.61 425.16 L452.95 429.67 L453.29 427.90 L453.63 438.34 L453.96 434.97 L454.30 430.44 L454.64 432.69 L454.98 431.60 L455.32 429.95 L455.66 436.66 L456.00 432.00 L456.33 431.67 L456.67 434.58 L457.01 433.07 L457.35 433.80 L457.69 427.85 L458.03 428.32 L458.37 434.03 L458.70 433.35 L459.04 432.47 L459.38 440.83 L459.72 436.09 L460.06 435.61 L460.40 429.53 L460.73 435.97 L461.07 434.04 L461.41 434.82 L461.75 435.88 L462.09 432.45 L462.43 437.95 L462.77 432.16 L463.10 438.47 L463.44 432.96 L463.78 433.65 L464.12 433.41 L464.46 432.64 L464.80 425.95 L465.14 434.23 L465.47 436.85 L465.81 433.67 L466.15 433.27 L466.49 432.61 L466.83 435.17 L467.17 434.55 L467.51 429.64 L467.84 438.75 L468.18 433.84 L468.52 435.59 L468.86 435.39 L469.20 439.93 L469.54 455.06 L469.87 437.13 L470.21 441.95 L470.55 443.63 L470.89 443.47 L471.23 447.81 L471.57 445.40 L471.91 441.36 L472.24 446.09 L472.58 444.83 L472.92 451.14 L473.26 451.78 L473.60 449.84 L473.94 448.00 L474.28 446.72 L474.61 452.53 L474.95 451.35 L475.29 443.02 L475.63 451.11 L475.97 447.86 L476.31 444.28 L476.65 444.76 L476.98 449.66 L477.32 446.53 L477.66 450.03 L478.00 442.76 L478.34 444.39 L478.68 449.72 L479.01 449.75 L479.35 442.60 L479.69 448.58 L480.03 446.41 L480.37 446.62 L480.71 439.71 L481.05 443.36 L481.38 443.73 L481.72 442.02 L482.06 434.88 L482.40 440.51 L482.74 438.55 L483.08 444.04 L483.42 443.29 L483.75 449.13 L484.09 442.83 L484.43 449.96 L484.77 440.96 L485.11 445.67 L485.45 442.55 L485.78 448.20 L486.12 449.87 L486.46 448.98 L486.80 443.31 L487.14 451.53 L487.48 447.70 L487.82 446.75 L488.15 448.51 L488.49 451.18 L488.83 451.92 L489.17 443.30 L489.51 453.62 L489.85 446.53 L490.19 458.01 L490.52 450.10 L490.86 450.43 L491.20 449.84 L491.54 445.17 L491.88 448.93 L492.22 448.76 L492.56 442.25 L492.89 444.74 L493.23 445.34 L493.57 448.59 L493.91 443.04 L494.25 438.68 L494.59 448.34 L494.92 450.08 L495.26 449.12 L495.60 445.46 L495.94 450.11 L496.28 455.58 L496.62 449.72 L496.96 451.52 L497.29 448.88 L497.63 451.21 L497.97 457.70 L498.31 452.16 L498.65 457.40 L498.99 457.40 L499.33 452.44 L499.66 451.90 L500.00 460.92 L500.34 453.43 L500.68 457.76 L501.02 457.19 L501.36 451.96 L501.70 448.49 L502.03 447.10 L502.37 448.04 L502.71 457.65 L503.05 458.35 L503.39 459.68 L503.73 448.17 L504.06 459.60 L504.40 454.85 L504.74 454.73 L505.08 453.76 L505.42 449.84 L505.76 456.79 L506.10 450.06 L506.43 449.49 L506.77 452.18 L507.11 455.03 L507.45 451.65 L507.79 449.20 L508.13 456.25 L508.47 460.67 L508.80 448.36 L509.14 447.07 L509.48 451.42 L509.82 447.34 L510.16 445.30 L510.50 466.36 L510.84 447.33 L511.17 448.83 L511.51 446.69 L511.85 456.57 L512.19 448.83 L512.53 460.95 L512.87 459.82 L513.20 457.79 L513.54 456.79 L513.88 460.21 L514.22 459.70 L514.56 459.64 L514.90 453.71 L515.24 462.63 L515.57 466.54 L515.91 459.30 L516.25 452.59 L516.59 460.11 L516.93 455.80 L517.27 459.58 L517.61 454.15 L517.94 455.11 L518.28 457.78 L518.62 455.27 L518.96 454.10 L519.30 459.57 L519.64 457.85 L519.97 450.10 L520.31 458.96 L520.65 455.07 L520.99 461.00 L521.33 452.22 L521.67 458.13 L522.01 459.76 L522.34 455.38 L522.68 454.27 L523.02 459.96 L523.36 457.19 L523.70 455.33 L524.04 459.47 L524.38 455.60 L524.71 452.91 L525.05 462.91 L525.39 470.40 L525.73 460.91 L526.07 460.42 L526.41 459.13 L526.75 465.68 L527.08 460.33 L527.42 467.83 L527.76 467.67 L528.10 463.31 L528.44 465.28 L528.78 462.55 L529.11 468.38 L529.45 468.89 L529.79 465.42 L530.13 469.13 L530.47 465.71 L530.81 469.54 L531.15 467.25 L531.48 473.46 L531.82 461.59 L532.16 463.46 L532.50 468.74" fill="none" stroke="#f0571c" stroke-width="1.8" stroke-linejoin="bevel"/>
<path d="M345.56 493.00 v-2.10 M345.56 291.20 v2.10 M392.67 493.00 v-2.10 M392.67 291.20 v2.10 M439.78 493.00 v-2.10 M439.78 291.20 v2.10 M486.89 493.00 v-2.10 M486.89 291.20 v2.10 M534.00 493.00 v-2.10 M534.00 291.20 v2.10 M322.00 493.00 h2.10 M534.00 493.00 h-2.10 M322.00 452.64 h2.10 M534.00 452.64 h-2.10 M322.00 412.28 h2.10 M534.00 412.28 h-2.10 M322.00 371.92 h2.10 M534.00 371.92 h-2.10 M322.00 331.56 h2.10 M534.00 331.56 h-2.10 M322.00 291.20 h2.10 M534.00 291.20 h-2.10" stroke="#555" stroke-width="0.8" fill="none"/>
<rect x="322.00" y="291.20" width="212.00" height="201.80" fill="none" stroke="#666" stroke-width="0.85"/>
<text class="tk" x="345.56" y="509.40" text-anchor="middle">3400</text>
<text class="tk" x="392.67" y="509.40" text-anchor="middle">3600</text>
<text class="tk" x="439.78" y="509.40" text-anchor="middle">3800</text>
<text class="tk" x="486.89" y="509.40" text-anchor="middle">4000</text>
<text class="tk" x="534.00" y="509.40" text-anchor="middle">4200</text>
<text class="tk" x="317.40" y="497.60" text-anchor="end">0</text>
<text class="tk" x="317.40" y="457.24" text-anchor="end">5</text>
<text class="tk" x="317.40" y="416.88" text-anchor="end">10</text>
<text class="tk" x="317.40" y="376.52" text-anchor="end">15</text>
<text class="tk" x="317.40" y="336.16" text-anchor="end">20</text>
<text class="tk" x="317.40" y="295.80" text-anchor="end">25</text>
<text class="lb" x="428.00" y="526.80" text-anchor="middle">Measure Depth(m)</text>
<text class="lb" transform="translate(297.80 392.10) rotate(-90)" text-anchor="middle">ROP(m/h)</text>
<path d="M368.20 309.65 h34.9" stroke="#0570be" stroke-width="1.5" fill="none"/>
<path d="M368.20 324.00 h34.9" stroke="#f0571c" stroke-width="1.5" fill="none"/>
<text class="lg" x="406.30" y="314.05">Measure values</text>
<text class="lg" x="406.30" y="328.45">conventional SVR model</text>
</g>
</svg>
</body></html>
